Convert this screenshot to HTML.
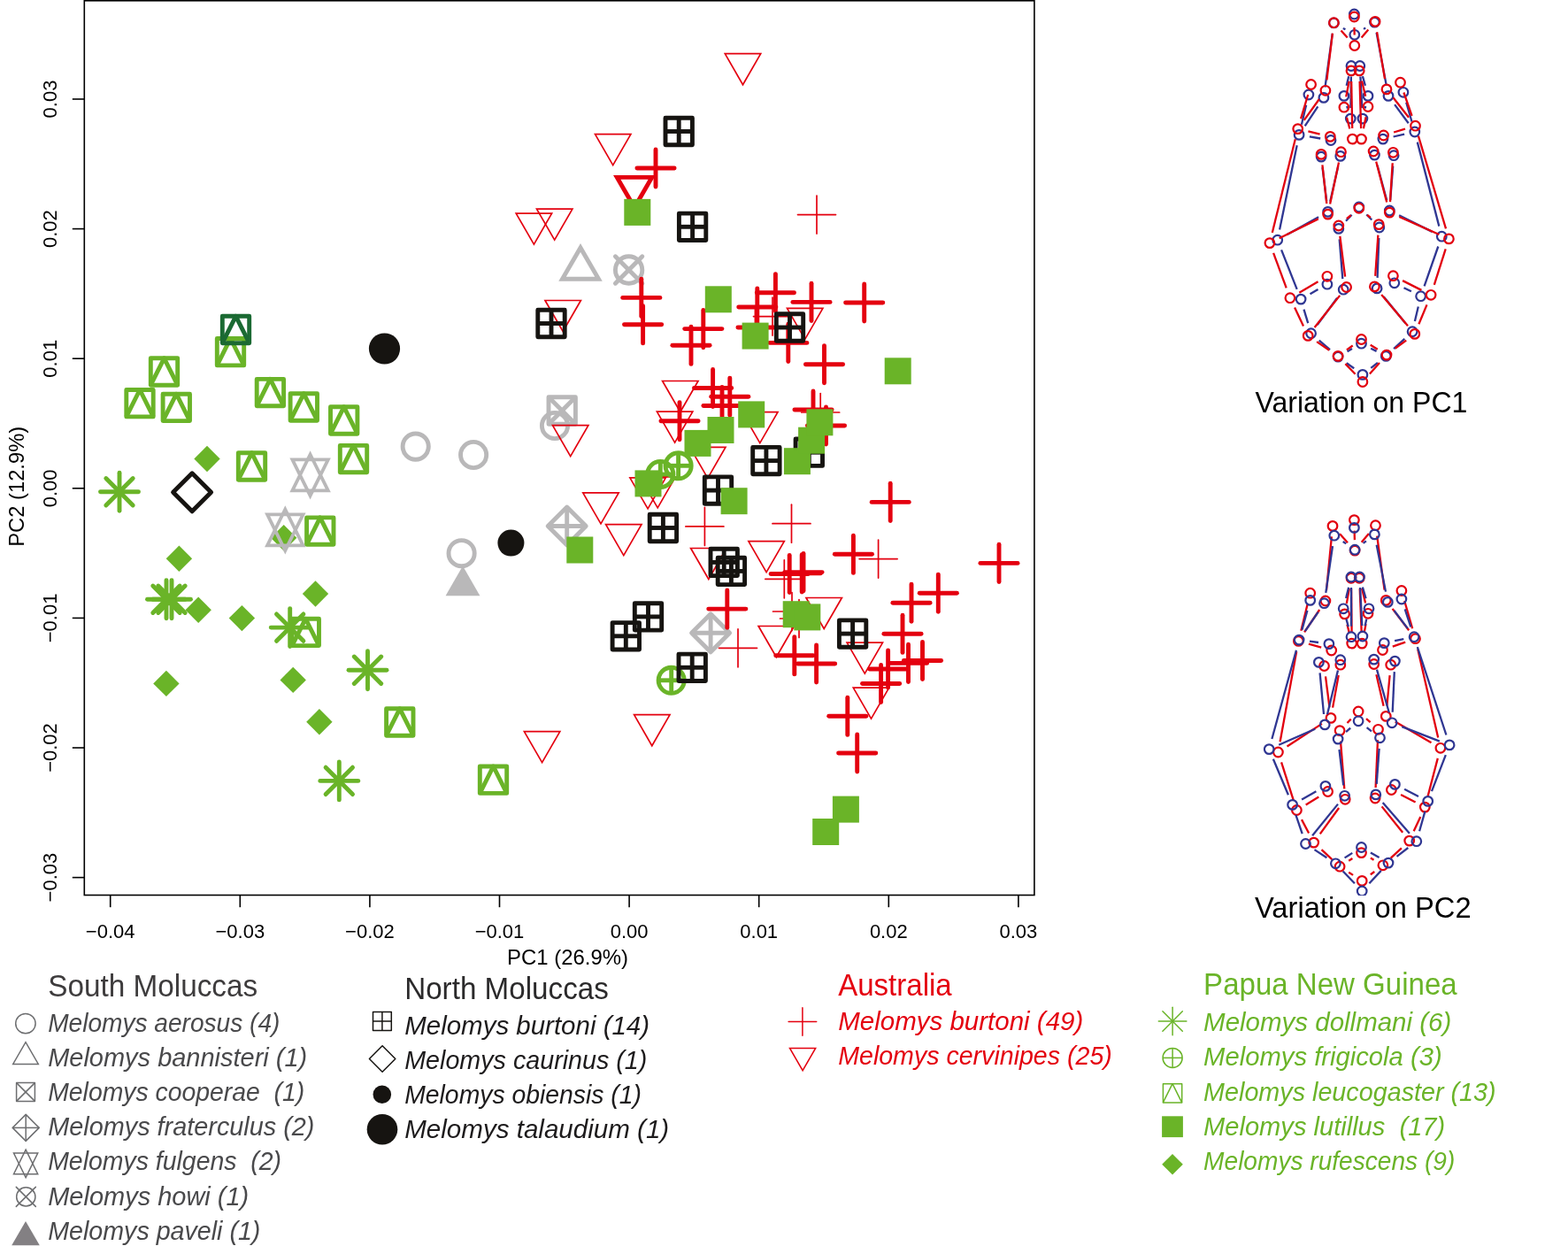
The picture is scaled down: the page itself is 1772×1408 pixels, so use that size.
<!DOCTYPE html>
<html><head><meta charset="utf-8"><title>PCA</title><style>html,body{margin:0;padding:0;background:#fff;}svg{display:block;}</style></head><body>
<svg width="1772" height="1408" viewBox="0 0 1772 1408">
<rect x="0" y="0" width="1772" height="1408" fill="#ffffff"/>
<rect x="95.3" y="0.8" width="1073.6" height="1010.7" fill="none" stroke="#000" stroke-width="1.6"/>
<line x1="124.7" y1="1011.5" x2="124.7" y2="1025.2" stroke="#000" stroke-width="1.6" stroke-linecap="butt"/>
<text x="124.7" y="1059.6" font-family="Liberation Sans, sans-serif" font-size="22" fill="#000" text-anchor="middle" xml:space="preserve">−0.04</text>
<line x1="271.3" y1="1011.5" x2="271.3" y2="1025.2" stroke="#000" stroke-width="1.6" stroke-linecap="butt"/>
<text x="271.3" y="1059.6" font-family="Liberation Sans, sans-serif" font-size="22" fill="#000" text-anchor="middle" xml:space="preserve">−0.03</text>
<line x1="417.9" y1="1011.5" x2="417.9" y2="1025.2" stroke="#000" stroke-width="1.6" stroke-linecap="butt"/>
<text x="417.9" y="1059.6" font-family="Liberation Sans, sans-serif" font-size="22" fill="#000" text-anchor="middle" xml:space="preserve">−0.02</text>
<line x1="564.5" y1="1011.5" x2="564.5" y2="1025.2" stroke="#000" stroke-width="1.6" stroke-linecap="butt"/>
<text x="564.5" y="1059.6" font-family="Liberation Sans, sans-serif" font-size="22" fill="#000" text-anchor="middle" xml:space="preserve">−0.01</text>
<line x1="711.1" y1="1011.5" x2="711.1" y2="1025.2" stroke="#000" stroke-width="1.6" stroke-linecap="butt"/>
<text x="711.1" y="1059.6" font-family="Liberation Sans, sans-serif" font-size="22" fill="#000" text-anchor="middle" xml:space="preserve">0.00</text>
<line x1="857.7" y1="1011.5" x2="857.7" y2="1025.2" stroke="#000" stroke-width="1.6" stroke-linecap="butt"/>
<text x="857.7" y="1059.6" font-family="Liberation Sans, sans-serif" font-size="22" fill="#000" text-anchor="middle" xml:space="preserve">0.01</text>
<line x1="1004.3" y1="1011.5" x2="1004.3" y2="1025.2" stroke="#000" stroke-width="1.6" stroke-linecap="butt"/>
<text x="1004.3" y="1059.6" font-family="Liberation Sans, sans-serif" font-size="22" fill="#000" text-anchor="middle" xml:space="preserve">0.02</text>
<line x1="1150.9" y1="1011.5" x2="1150.9" y2="1025.2" stroke="#000" stroke-width="1.6" stroke-linecap="butt"/>
<text x="1150.9" y="1059.6" font-family="Liberation Sans, sans-serif" font-size="22" fill="#000" text-anchor="middle" xml:space="preserve">0.03</text>
<line x1="81.8" y1="112" x2="95.3" y2="112" stroke="#000" stroke-width="1.6" stroke-linecap="butt"/>
<text x="63.6" y="112" font-family="Liberation Sans, sans-serif" font-size="22" fill="#000" text-anchor="middle" transform="rotate(-90 63.6 112)" xml:space="preserve">0.03</text>
<line x1="81.8" y1="258.6" x2="95.3" y2="258.6" stroke="#000" stroke-width="1.6" stroke-linecap="butt"/>
<text x="63.6" y="258.6" font-family="Liberation Sans, sans-serif" font-size="22" fill="#000" text-anchor="middle" transform="rotate(-90 63.6 258.6)" xml:space="preserve">0.02</text>
<line x1="81.8" y1="405.2" x2="95.3" y2="405.2" stroke="#000" stroke-width="1.6" stroke-linecap="butt"/>
<text x="63.6" y="405.2" font-family="Liberation Sans, sans-serif" font-size="22" fill="#000" text-anchor="middle" transform="rotate(-90 63.6 405.2)" xml:space="preserve">0.01</text>
<line x1="81.8" y1="551.8" x2="95.3" y2="551.8" stroke="#000" stroke-width="1.6" stroke-linecap="butt"/>
<text x="63.6" y="551.8" font-family="Liberation Sans, sans-serif" font-size="22" fill="#000" text-anchor="middle" transform="rotate(-90 63.6 551.8)" xml:space="preserve">0.00</text>
<line x1="81.8" y1="698.4" x2="95.3" y2="698.4" stroke="#000" stroke-width="1.6" stroke-linecap="butt"/>
<text x="63.6" y="698.4" font-family="Liberation Sans, sans-serif" font-size="22" fill="#000" text-anchor="middle" transform="rotate(-90 63.6 698.4)" xml:space="preserve">−0.01</text>
<line x1="81.8" y1="845" x2="95.3" y2="845" stroke="#000" stroke-width="1.6" stroke-linecap="butt"/>
<text x="63.6" y="845" font-family="Liberation Sans, sans-serif" font-size="22" fill="#000" text-anchor="middle" transform="rotate(-90 63.6 845)" xml:space="preserve">−0.02</text>
<line x1="81.8" y1="991.6" x2="95.3" y2="991.6" stroke="#000" stroke-width="1.6" stroke-linecap="butt"/>
<text x="63.6" y="991.6" font-family="Liberation Sans, sans-serif" font-size="22" fill="#000" text-anchor="middle" transform="rotate(-90 63.6 991.6)" xml:space="preserve">−0.03</text>
<text x="573" y="1090.2" font-family="Liberation Sans, sans-serif" font-size="24" fill="#000" text-anchor="start" textLength="137" lengthAdjust="spacingAndGlyphs" xml:space="preserve">PC1 (26.9%)</text>
<text x="27.2" y="617.8" font-family="Liberation Sans, sans-serif" font-size="24" fill="#000" text-anchor="start" textLength="136" lengthAdjust="spacingAndGlyphs" transform="rotate(-90 27.2 617.8)" xml:space="preserve">PC2 (12.9%)</text>
<polygon points="219.3,518.5 234,503.8 248.7,518.5 234,533.2" fill="#6ab428"/>
<polygon points="306,607.7 320.7,593 335.4,607.7 320.7,622.4" fill="#6ab428"/>
<polygon points="187.7,631.2 202.4,616.5 217.1,631.2 202.4,645.9" fill="#6ab428"/>
<polygon points="209.5,689.3 224.2,674.6 238.9,689.3 224.2,704" fill="#6ab428"/>
<polygon points="258.7,698.6 273.4,683.9 288.1,698.6 273.4,713.3" fill="#6ab428"/>
<polygon points="341.8,671 356.5,656.3 371.2,671 356.5,685.7" fill="#6ab428"/>
<polygon points="173.2,772.4 187.9,757.7 202.6,772.4 187.9,787.1" fill="#6ab428"/>
<polygon points="316.5,768.4 331.2,753.7 345.9,768.4 331.2,783.1" fill="#6ab428"/>
<polygon points="346.2,815.8 360.9,801.1 375.6,815.8 360.9,830.5" fill="#6ab428"/>
<circle cx="469.7" cy="504.6" r="14.6" fill="none" stroke="#b9b8b9" stroke-width="4.9"/>
<circle cx="535.1" cy="514" r="14.6" fill="none" stroke="#b9b8b9" stroke-width="4.9"/>
<circle cx="627" cy="481" r="14.6" fill="none" stroke="#b9b8b9" stroke-width="4.9"/>
<circle cx="521.6" cy="625.2" r="14.6" fill="none" stroke="#b9b8b9" stroke-width="4.9"/>
<polygon points="635.5,315.3 676.5,315.3 656,279.9" fill="none" stroke="#b9b8b9" stroke-width="4.9" stroke-linejoin="miter"/>
<rect x="620" y="448.8" width="30.4" height="30.4" fill="none" stroke="#b9b8b9" stroke-width="4.9" stroke-linejoin="round"/>
<line x1="620" y1="448.8" x2="650.4" y2="479.2" stroke="#b9b8b9" stroke-width="4.9" stroke-linecap="butt"/>
<line x1="620" y1="479.2" x2="650.4" y2="448.8" stroke="#b9b8b9" stroke-width="4.9" stroke-linecap="butt"/>
<polygon points="619.2,594.5 640.7,573 662.2,594.5 640.7,616" fill="none" stroke="#b9b8b9" stroke-width="4.9" stroke-linejoin="round"/>
<line x1="619.2" y1="594.5" x2="662.2" y2="594.5" stroke="#b9b8b9" stroke-width="4.9" stroke-linecap="butt"/>
<line x1="640.7" y1="573" x2="640.7" y2="616" stroke="#b9b8b9" stroke-width="4.9" stroke-linecap="butt"/>
<polygon points="781.6,715.3 803.1,693.8 824.6,715.3 803.1,736.8" fill="none" stroke="#b9b8b9" stroke-width="4.9" stroke-linejoin="round"/>
<line x1="781.6" y1="715.3" x2="824.6" y2="715.3" stroke="#b9b8b9" stroke-width="4.9" stroke-linecap="butt"/>
<line x1="803.1" y1="693.8" x2="803.1" y2="736.8" stroke="#b9b8b9" stroke-width="4.9" stroke-linecap="butt"/>
<polygon points="350.6,513.5 370.8,554.3 330.4,554.3" fill="none" stroke="#b9b8b9" stroke-width="3.8" stroke-linejoin="miter"/>
<polygon points="350.6,560.1 370.8,519.3 330.4,519.3" fill="none" stroke="#b9b8b9" stroke-width="3.8" stroke-linejoin="miter"/>
<polygon points="322.3,575.5 342.5,616.3 302.1,616.3" fill="none" stroke="#b9b8b9" stroke-width="3.8" stroke-linejoin="miter"/>
<polygon points="322.3,622.1 342.5,581.3 302.1,581.3" fill="none" stroke="#b9b8b9" stroke-width="3.8" stroke-linejoin="miter"/>
<circle cx="710.6" cy="305" r="15.2" fill="none" stroke="#b9b8b9" stroke-width="4.9"/>
<line x1="695.4" y1="289.8" x2="725.8" y2="320.2" stroke="#b9b8b9" stroke-width="4.9" stroke-linecap="round"/>
<line x1="695.4" y1="320.2" x2="725.8" y2="289.8" stroke="#b9b8b9" stroke-width="4.9" stroke-linecap="round"/>
<polygon points="503.6,673.2 542.4,673.2 523,639.6" fill="#b9b8b9"/>
<polygon points="819.3,60.7 859.7,60.7 839.5,95.7" fill="none" stroke="#e4000f" stroke-width="1.7" stroke-linejoin="miter"/>
<polygon points="672.5,151.6 712.9,151.6 692.7,186.6" fill="none" stroke="#e4000f" stroke-width="1.7" stroke-linejoin="miter"/>
<polygon points="697.3,200.4 736.7,200.4 717,234.5" fill="none" stroke="#e4000f" stroke-width="4.9" stroke-linejoin="miter"/>
<polygon points="583.2,241.1 623.6,241.1 603.4,276.1" fill="none" stroke="#e4000f" stroke-width="1.7" stroke-linejoin="miter"/>
<polygon points="606.5,236.1 646.9,236.1 626.7,271.1" fill="none" stroke="#e4000f" stroke-width="1.7" stroke-linejoin="miter"/>
<polygon points="616,339.5 656.4,339.5 636.2,374.5" fill="none" stroke="#e4000f" stroke-width="1.7" stroke-linejoin="miter"/>
<polygon points="889.5,348.3 929.9,348.3 909.7,383.3" fill="none" stroke="#e4000f" stroke-width="1.7" stroke-linejoin="miter"/>
<polygon points="748.6,430.5 789,430.5 768.8,465.5" fill="none" stroke="#e4000f" stroke-width="1.7" stroke-linejoin="miter"/>
<polygon points="742.4,465.1 782.8,465.1 762.6,500.1" fill="none" stroke="#e4000f" stroke-width="1.7" stroke-linejoin="miter"/>
<polygon points="838.6,465.6 879,465.6 858.8,500.6" fill="none" stroke="#e4000f" stroke-width="1.7" stroke-linejoin="miter"/>
<polygon points="624.5,480.6 664.9,480.6 644.7,515.6" fill="none" stroke="#e4000f" stroke-width="1.7" stroke-linejoin="miter"/>
<polygon points="779.6,505.3 820,505.3 799.8,540.3" fill="none" stroke="#e4000f" stroke-width="1.7" stroke-linejoin="miter"/>
<polygon points="711.9,539.9 752.3,539.9 732.1,574.9" fill="none" stroke="#e4000f" stroke-width="1.7" stroke-linejoin="miter"/>
<polygon points="723,538.9 763.4,538.9 743.2,573.9" fill="none" stroke="#e4000f" stroke-width="1.7" stroke-linejoin="miter"/>
<polygon points="658.8,556.8 699.2,556.8 679,591.8" fill="none" stroke="#e4000f" stroke-width="1.7" stroke-linejoin="miter"/>
<polygon points="684.6,592.6 725,592.6 704.8,627.6" fill="none" stroke="#e4000f" stroke-width="1.7" stroke-linejoin="miter"/>
<polygon points="780.6,619.5 821,619.5 800.8,654.5" fill="none" stroke="#e4000f" stroke-width="1.7" stroke-linejoin="miter"/>
<polygon points="845.9,611.6 886.3,611.6 866.1,646.6" fill="none" stroke="#e4000f" stroke-width="1.7" stroke-linejoin="miter"/>
<polygon points="911,675.5 951.4,675.5 931.2,710.5" fill="none" stroke="#e4000f" stroke-width="1.7" stroke-linejoin="miter"/>
<polygon points="857.1,707.5 897.5,707.5 877.3,742.5" fill="none" stroke="#e4000f" stroke-width="1.7" stroke-linejoin="miter"/>
<polygon points="957.1,726.1 997.5,726.1 977.3,761.1" fill="none" stroke="#e4000f" stroke-width="1.7" stroke-linejoin="miter"/>
<polygon points="964.3,777.1 1004.7,777.1 984.5,812.1" fill="none" stroke="#e4000f" stroke-width="1.7" stroke-linejoin="miter"/>
<polygon points="716.6,807.7 757,807.7 736.8,842.7" fill="none" stroke="#e4000f" stroke-width="1.7" stroke-linejoin="miter"/>
<polygon points="592.4,826.6 632.8,826.6 612.6,861.6" fill="none" stroke="#e4000f" stroke-width="1.7" stroke-linejoin="miter"/>
<line x1="719.9" y1="190" x2="762.1" y2="190" stroke="#e4000f" stroke-width="4.9" stroke-linecap="round"/>
<line x1="741" y1="168.9" x2="741" y2="211.1" stroke="#e4000f" stroke-width="4.9" stroke-linecap="round"/>
<line x1="901.5" y1="242.6" x2="944.5" y2="242.6" stroke="#e4000f" stroke-width="1.7" stroke-linecap="round"/>
<line x1="923" y1="221.1" x2="923" y2="264.1" stroke="#e4000f" stroke-width="1.7" stroke-linecap="round"/>
<line x1="703.7" y1="336.4" x2="745.9" y2="336.4" stroke="#e4000f" stroke-width="4.9" stroke-linecap="round"/>
<line x1="724.8" y1="315.3" x2="724.8" y2="357.5" stroke="#e4000f" stroke-width="4.9" stroke-linecap="round"/>
<line x1="705.5" y1="366.8" x2="747.7" y2="366.8" stroke="#e4000f" stroke-width="4.9" stroke-linecap="round"/>
<line x1="726.6" y1="345.7" x2="726.6" y2="387.9" stroke="#e4000f" stroke-width="4.9" stroke-linecap="round"/>
<line x1="773.7" y1="371.6" x2="815.9" y2="371.6" stroke="#e4000f" stroke-width="4.9" stroke-linecap="round"/>
<line x1="794.8" y1="350.5" x2="794.8" y2="392.7" stroke="#e4000f" stroke-width="4.9" stroke-linecap="round"/>
<line x1="759.9" y1="390.3" x2="802.1" y2="390.3" stroke="#e4000f" stroke-width="4.9" stroke-linecap="round"/>
<line x1="781" y1="369.2" x2="781" y2="411.4" stroke="#e4000f" stroke-width="4.9" stroke-linecap="round"/>
<line x1="834.7" y1="347" x2="876.9" y2="347" stroke="#e4000f" stroke-width="4.9" stroke-linecap="round"/>
<line x1="855.8" y1="325.9" x2="855.8" y2="368.1" stroke="#e4000f" stroke-width="4.9" stroke-linecap="round"/>
<line x1="833.9" y1="370" x2="876.1" y2="370" stroke="#e4000f" stroke-width="4.9" stroke-linecap="round"/>
<line x1="855" y1="348.9" x2="855" y2="391.1" stroke="#e4000f" stroke-width="4.9" stroke-linecap="round"/>
<line x1="851.5" y1="357.6" x2="894.5" y2="357.6" stroke="#e4000f" stroke-width="1.7" stroke-linecap="round"/>
<line x1="873" y1="336.1" x2="873" y2="379.1" stroke="#e4000f" stroke-width="1.7" stroke-linecap="round"/>
<line x1="855.3" y1="330.7" x2="897.5" y2="330.7" stroke="#e4000f" stroke-width="4.9" stroke-linecap="round"/>
<line x1="876.4" y1="309.6" x2="876.4" y2="351.8" stroke="#e4000f" stroke-width="4.9" stroke-linecap="round"/>
<line x1="895.9" y1="341.4" x2="938.1" y2="341.4" stroke="#e4000f" stroke-width="4.9" stroke-linecap="round"/>
<line x1="917" y1="320.3" x2="917" y2="362.5" stroke="#e4000f" stroke-width="4.9" stroke-linecap="round"/>
<line x1="955.6" y1="342" x2="997.8" y2="342" stroke="#e4000f" stroke-width="4.9" stroke-linecap="round"/>
<line x1="976.7" y1="320.9" x2="976.7" y2="363.1" stroke="#e4000f" stroke-width="4.9" stroke-linecap="round"/>
<line x1="869.7" y1="387.4" x2="911.9" y2="387.4" stroke="#e4000f" stroke-width="4.9" stroke-linecap="round"/>
<line x1="890.8" y1="366.3" x2="890.8" y2="408.5" stroke="#e4000f" stroke-width="4.9" stroke-linecap="round"/>
<line x1="910.4" y1="411.7" x2="952.6" y2="411.7" stroke="#e4000f" stroke-width="4.9" stroke-linecap="round"/>
<line x1="931.5" y1="390.6" x2="931.5" y2="432.8" stroke="#e4000f" stroke-width="4.9" stroke-linecap="round"/>
<line x1="784.5" y1="438.5" x2="826.7" y2="438.5" stroke="#e4000f" stroke-width="4.9" stroke-linecap="round"/>
<line x1="805.6" y1="417.4" x2="805.6" y2="459.6" stroke="#e4000f" stroke-width="4.9" stroke-linecap="round"/>
<line x1="803.7" y1="448.2" x2="845.9" y2="448.2" stroke="#e4000f" stroke-width="4.9" stroke-linecap="round"/>
<line x1="824.8" y1="427.1" x2="824.8" y2="469.3" stroke="#e4000f" stroke-width="4.9" stroke-linecap="round"/>
<line x1="794.9" y1="458.5" x2="837.1" y2="458.5" stroke="#e4000f" stroke-width="4.9" stroke-linecap="round"/>
<line x1="816" y1="437.4" x2="816" y2="479.6" stroke="#e4000f" stroke-width="4.9" stroke-linecap="round"/>
<line x1="746.9" y1="475.7" x2="789.1" y2="475.7" stroke="#e4000f" stroke-width="4.9" stroke-linecap="round"/>
<line x1="768" y1="454.6" x2="768" y2="496.8" stroke="#e4000f" stroke-width="4.9" stroke-linecap="round"/>
<line x1="897.9" y1="463" x2="940.1" y2="463" stroke="#e4000f" stroke-width="4.9" stroke-linecap="round"/>
<line x1="919" y1="441.9" x2="919" y2="484.1" stroke="#e4000f" stroke-width="4.9" stroke-linecap="round"/>
<line x1="905.7" y1="466" x2="948.7" y2="466" stroke="#e4000f" stroke-width="1.7" stroke-linecap="round"/>
<line x1="927.2" y1="444.5" x2="927.2" y2="487.5" stroke="#e4000f" stroke-width="1.7" stroke-linecap="round"/>
<line x1="912.4" y1="481" x2="954.6" y2="481" stroke="#e4000f" stroke-width="4.9" stroke-linecap="round"/>
<line x1="933.5" y1="459.9" x2="933.5" y2="502.1" stroke="#e4000f" stroke-width="4.9" stroke-linecap="round"/>
<line x1="985.1" y1="567.4" x2="1027.3" y2="567.4" stroke="#e4000f" stroke-width="4.9" stroke-linecap="round"/>
<line x1="1006.2" y1="546.3" x2="1006.2" y2="588.5" stroke="#e4000f" stroke-width="4.9" stroke-linecap="round"/>
<line x1="774.9" y1="594.9" x2="817.9" y2="594.9" stroke="#e4000f" stroke-width="1.7" stroke-linecap="round"/>
<line x1="796.4" y1="573.4" x2="796.4" y2="616.4" stroke="#e4000f" stroke-width="1.7" stroke-linecap="round"/>
<line x1="873" y1="591.7" x2="916" y2="591.7" stroke="#e4000f" stroke-width="1.7" stroke-linecap="round"/>
<line x1="894.5" y1="570.2" x2="894.5" y2="613.2" stroke="#e4000f" stroke-width="1.7" stroke-linecap="round"/>
<line x1="871.1" y1="648.5" x2="913.3" y2="648.5" stroke="#e4000f" stroke-width="4.9" stroke-linecap="round"/>
<line x1="892.2" y1="627.4" x2="892.2" y2="669.6" stroke="#e4000f" stroke-width="4.9" stroke-linecap="round"/>
<line x1="885.1" y1="647.9" x2="927.3" y2="647.9" stroke="#e4000f" stroke-width="4.9" stroke-linecap="round"/>
<line x1="906.2" y1="626.8" x2="906.2" y2="669" stroke="#e4000f" stroke-width="4.9" stroke-linecap="round"/>
<line x1="886.9" y1="646.6" x2="929.1" y2="646.6" stroke="#e4000f" stroke-width="4.9" stroke-linecap="round"/>
<line x1="908" y1="625.5" x2="908" y2="667.7" stroke="#e4000f" stroke-width="4.9" stroke-linecap="round"/>
<line x1="864.8" y1="654.3" x2="907.8" y2="654.3" stroke="#e4000f" stroke-width="1.7" stroke-linecap="round"/>
<line x1="886.3" y1="632.8" x2="886.3" y2="675.8" stroke="#e4000f" stroke-width="1.7" stroke-linecap="round"/>
<line x1="943.3" y1="626.3" x2="985.5" y2="626.3" stroke="#e4000f" stroke-width="4.9" stroke-linecap="round"/>
<line x1="964.4" y1="605.2" x2="964.4" y2="647.4" stroke="#e4000f" stroke-width="4.9" stroke-linecap="round"/>
<line x1="971.1" y1="631.6" x2="1014.1" y2="631.6" stroke="#e4000f" stroke-width="1.7" stroke-linecap="round"/>
<line x1="992.6" y1="610.1" x2="992.6" y2="653.1" stroke="#e4000f" stroke-width="1.7" stroke-linecap="round"/>
<line x1="1107.9" y1="636.4" x2="1150.1" y2="636.4" stroke="#e4000f" stroke-width="4.9" stroke-linecap="round"/>
<line x1="1129" y1="615.3" x2="1129" y2="657.5" stroke="#e4000f" stroke-width="4.9" stroke-linecap="round"/>
<line x1="1039.2" y1="670.2" x2="1081.4" y2="670.2" stroke="#e4000f" stroke-width="4.9" stroke-linecap="round"/>
<line x1="1060.3" y1="649.1" x2="1060.3" y2="691.3" stroke="#e4000f" stroke-width="4.9" stroke-linecap="round"/>
<line x1="1008.9" y1="681.2" x2="1051.1" y2="681.2" stroke="#e4000f" stroke-width="4.9" stroke-linecap="round"/>
<line x1="1030" y1="660.1" x2="1030" y2="702.3" stroke="#e4000f" stroke-width="4.9" stroke-linecap="round"/>
<line x1="800.7" y1="688.1" x2="842.9" y2="688.1" stroke="#e4000f" stroke-width="4.9" stroke-linecap="round"/>
<line x1="821.8" y1="667" x2="821.8" y2="709.2" stroke="#e4000f" stroke-width="4.9" stroke-linecap="round"/>
<line x1="873.5" y1="691" x2="916.5" y2="691" stroke="#e4000f" stroke-width="1.7" stroke-linecap="round"/>
<line x1="895" y1="669.5" x2="895" y2="712.5" stroke="#e4000f" stroke-width="1.7" stroke-linecap="round"/>
<line x1="881.5" y1="699" x2="924.5" y2="699" stroke="#e4000f" stroke-width="1.7" stroke-linecap="round"/>
<line x1="903" y1="677.5" x2="903" y2="720.5" stroke="#e4000f" stroke-width="1.7" stroke-linecap="round"/>
<line x1="812.5" y1="732.3" x2="855.5" y2="732.3" stroke="#e4000f" stroke-width="1.7" stroke-linecap="round"/>
<line x1="834" y1="710.8" x2="834" y2="753.8" stroke="#e4000f" stroke-width="1.7" stroke-linecap="round"/>
<line x1="876.7" y1="740.8" x2="918.9" y2="740.8" stroke="#e4000f" stroke-width="4.9" stroke-linecap="round"/>
<line x1="897.8" y1="719.7" x2="897.8" y2="761.9" stroke="#e4000f" stroke-width="4.9" stroke-linecap="round"/>
<line x1="901.5" y1="750" x2="943.7" y2="750" stroke="#e4000f" stroke-width="4.9" stroke-linecap="round"/>
<line x1="922.6" y1="728.9" x2="922.6" y2="771.1" stroke="#e4000f" stroke-width="4.9" stroke-linecap="round"/>
<line x1="998.9" y1="716.3" x2="1041.1" y2="716.3" stroke="#e4000f" stroke-width="4.9" stroke-linecap="round"/>
<line x1="1020" y1="695.2" x2="1020" y2="737.4" stroke="#e4000f" stroke-width="4.9" stroke-linecap="round"/>
<line x1="1021.4" y1="746.5" x2="1063.6" y2="746.5" stroke="#e4000f" stroke-width="4.9" stroke-linecap="round"/>
<line x1="1042.5" y1="725.4" x2="1042.5" y2="767.6" stroke="#e4000f" stroke-width="4.9" stroke-linecap="round"/>
<line x1="1005.4" y1="749.4" x2="1047.6" y2="749.4" stroke="#e4000f" stroke-width="4.9" stroke-linecap="round"/>
<line x1="1026.5" y1="728.3" x2="1026.5" y2="770.5" stroke="#e4000f" stroke-width="4.9" stroke-linecap="round"/>
<line x1="982.5" y1="756" x2="1024.7" y2="756" stroke="#e4000f" stroke-width="4.9" stroke-linecap="round"/>
<line x1="1003.6" y1="734.9" x2="1003.6" y2="777.1" stroke="#e4000f" stroke-width="4.9" stroke-linecap="round"/>
<line x1="974.5" y1="772.5" x2="1016.7" y2="772.5" stroke="#e4000f" stroke-width="4.9" stroke-linecap="round"/>
<line x1="995.6" y1="751.4" x2="995.6" y2="793.6" stroke="#e4000f" stroke-width="4.9" stroke-linecap="round"/>
<line x1="936.7" y1="809.3" x2="978.9" y2="809.3" stroke="#e4000f" stroke-width="4.9" stroke-linecap="round"/>
<line x1="957.8" y1="788.2" x2="957.8" y2="830.4" stroke="#e4000f" stroke-width="4.9" stroke-linecap="round"/>
<line x1="947.6" y1="851" x2="989.8" y2="851" stroke="#e4000f" stroke-width="4.9" stroke-linecap="round"/>
<line x1="968.7" y1="829.9" x2="968.7" y2="872.1" stroke="#e4000f" stroke-width="4.9" stroke-linecap="round"/>
<polygon points="195.6,556.3 217.1,534.8 238.6,556.3 217.1,577.8" fill="none" stroke="#161411" stroke-width="4.9" stroke-linejoin="round"/>
<circle cx="577.4" cy="613.6" r="15" fill="#161411"/>
<circle cx="434.5" cy="394" r="17.6" fill="#161411"/>
<rect x="245.3" y="382.5" width="30.4" height="30.4" fill="none" stroke="#6ab428" stroke-width="4.9" stroke-linejoin="round"/>
<polyline points="245.3,412.9 260.5,382.5 275.7,412.9" fill="none" stroke="#6ab428" stroke-width="4.9" stroke-linejoin="round"/>
<rect x="170.3" y="404.8" width="30.4" height="30.4" fill="none" stroke="#6ab428" stroke-width="4.9" stroke-linejoin="round"/>
<polyline points="170.3,435.2 185.5,404.8 200.7,435.2" fill="none" stroke="#6ab428" stroke-width="4.9" stroke-linejoin="round"/>
<rect x="142.8" y="440.5" width="30.4" height="30.4" fill="none" stroke="#6ab428" stroke-width="4.9" stroke-linejoin="round"/>
<polyline points="142.8,470.9 158,440.5 173.2,470.9" fill="none" stroke="#6ab428" stroke-width="4.9" stroke-linejoin="round"/>
<rect x="184.1" y="445.2" width="30.4" height="30.4" fill="none" stroke="#6ab428" stroke-width="4.9" stroke-linejoin="round"/>
<polyline points="184.1,475.6 199.3,445.2 214.5,475.6" fill="none" stroke="#6ab428" stroke-width="4.9" stroke-linejoin="round"/>
<rect x="290.2" y="428.4" width="30.4" height="30.4" fill="none" stroke="#6ab428" stroke-width="4.9" stroke-linejoin="round"/>
<polyline points="290.2,458.8 305.4,428.4 320.6,458.8" fill="none" stroke="#6ab428" stroke-width="4.9" stroke-linejoin="round"/>
<rect x="328.1" y="444.8" width="30.4" height="30.4" fill="none" stroke="#6ab428" stroke-width="4.9" stroke-linejoin="round"/>
<polyline points="328.1,475.2 343.3,444.8 358.5,475.2" fill="none" stroke="#6ab428" stroke-width="4.9" stroke-linejoin="round"/>
<rect x="373.5" y="459.8" width="30.4" height="30.4" fill="none" stroke="#6ab428" stroke-width="4.9" stroke-linejoin="round"/>
<polyline points="373.5,490.2 388.7,459.8 403.9,490.2" fill="none" stroke="#6ab428" stroke-width="4.9" stroke-linejoin="round"/>
<rect x="269.3" y="511.8" width="30.4" height="30.4" fill="none" stroke="#6ab428" stroke-width="4.9" stroke-linejoin="round"/>
<polyline points="269.3,542.2 284.5,511.8 299.7,542.2" fill="none" stroke="#6ab428" stroke-width="4.9" stroke-linejoin="round"/>
<rect x="384.3" y="503.4" width="30.4" height="30.4" fill="none" stroke="#6ab428" stroke-width="4.9" stroke-linejoin="round"/>
<polyline points="384.3,533.8 399.5,503.4 414.7,533.8" fill="none" stroke="#6ab428" stroke-width="4.9" stroke-linejoin="round"/>
<rect x="346.6" y="584.9" width="30.4" height="30.4" fill="none" stroke="#6ab428" stroke-width="4.9" stroke-linejoin="round"/>
<polyline points="346.6,615.3 361.8,584.9 377,615.3" fill="none" stroke="#6ab428" stroke-width="4.9" stroke-linejoin="round"/>
<rect x="330.1" y="699.2" width="30.4" height="30.4" fill="none" stroke="#6ab428" stroke-width="4.9" stroke-linejoin="round"/>
<polyline points="330.1,729.6 345.3,699.2 360.5,729.6" fill="none" stroke="#6ab428" stroke-width="4.9" stroke-linejoin="round"/>
<rect x="436.6" y="800.8" width="30.4" height="30.4" fill="none" stroke="#6ab428" stroke-width="4.9" stroke-linejoin="round"/>
<polyline points="436.6,831.2 451.8,800.8 467,831.2" fill="none" stroke="#6ab428" stroke-width="4.9" stroke-linejoin="round"/>
<rect x="542.3" y="866" width="30.4" height="30.4" fill="none" stroke="#6ab428" stroke-width="4.9" stroke-linejoin="round"/>
<polyline points="542.3,896.4 557.5,866 572.7,896.4" fill="none" stroke="#6ab428" stroke-width="4.9" stroke-linejoin="round"/>
<rect x="251.3" y="357.3" width="30.4" height="30.4" fill="none" stroke="#1b6a33" stroke-width="4.9" stroke-linejoin="round"/>
<polyline points="251.3,387.7 266.5,357.3 281.7,387.7" fill="none" stroke="#1b6a33" stroke-width="4.9" stroke-linejoin="round"/>
<line x1="113.5" y1="555.8" x2="156.5" y2="555.8" stroke="#6ab428" stroke-width="4.9" stroke-linecap="round"/>
<line x1="135" y1="534.3" x2="135" y2="577.3" stroke="#6ab428" stroke-width="4.9" stroke-linecap="round"/>
<line x1="119.8" y1="540.6" x2="150.2" y2="571" stroke="#6ab428" stroke-width="4.9" stroke-linecap="round"/>
<line x1="119.8" y1="571" x2="150.2" y2="540.6" stroke="#6ab428" stroke-width="4.9" stroke-linecap="round"/>
<line x1="166.5" y1="677.3" x2="209.5" y2="677.3" stroke="#6ab428" stroke-width="4.9" stroke-linecap="round"/>
<line x1="188" y1="655.8" x2="188" y2="698.8" stroke="#6ab428" stroke-width="4.9" stroke-linecap="round"/>
<line x1="172.8" y1="662.1" x2="203.2" y2="692.5" stroke="#6ab428" stroke-width="4.9" stroke-linecap="round"/>
<line x1="172.8" y1="692.5" x2="203.2" y2="662.1" stroke="#6ab428" stroke-width="4.9" stroke-linecap="round"/>
<line x1="172.5" y1="677.3" x2="215.5" y2="677.3" stroke="#6ab428" stroke-width="4.9" stroke-linecap="round"/>
<line x1="194" y1="655.8" x2="194" y2="698.8" stroke="#6ab428" stroke-width="4.9" stroke-linecap="round"/>
<line x1="178.8" y1="662.1" x2="209.2" y2="692.5" stroke="#6ab428" stroke-width="4.9" stroke-linecap="round"/>
<line x1="178.8" y1="692.5" x2="209.2" y2="662.1" stroke="#6ab428" stroke-width="4.9" stroke-linecap="round"/>
<line x1="306.2" y1="709.1" x2="349.2" y2="709.1" stroke="#6ab428" stroke-width="4.9" stroke-linecap="round"/>
<line x1="327.7" y1="687.6" x2="327.7" y2="730.6" stroke="#6ab428" stroke-width="4.9" stroke-linecap="round"/>
<line x1="312.5" y1="693.9" x2="342.9" y2="724.3" stroke="#6ab428" stroke-width="4.9" stroke-linecap="round"/>
<line x1="312.5" y1="724.3" x2="342.9" y2="693.9" stroke="#6ab428" stroke-width="4.9" stroke-linecap="round"/>
<line x1="394" y1="757.3" x2="437" y2="757.3" stroke="#6ab428" stroke-width="4.9" stroke-linecap="round"/>
<line x1="415.5" y1="735.8" x2="415.5" y2="778.8" stroke="#6ab428" stroke-width="4.9" stroke-linecap="round"/>
<line x1="400.3" y1="742.1" x2="430.7" y2="772.5" stroke="#6ab428" stroke-width="4.9" stroke-linecap="round"/>
<line x1="400.3" y1="772.5" x2="430.7" y2="742.1" stroke="#6ab428" stroke-width="4.9" stroke-linecap="round"/>
<line x1="361.8" y1="882.4" x2="404.8" y2="882.4" stroke="#6ab428" stroke-width="4.9" stroke-linecap="round"/>
<line x1="383.3" y1="860.9" x2="383.3" y2="903.9" stroke="#6ab428" stroke-width="4.9" stroke-linecap="round"/>
<line x1="368.1" y1="867.2" x2="398.5" y2="897.6" stroke="#6ab428" stroke-width="4.9" stroke-linecap="round"/>
<line x1="368.1" y1="897.6" x2="398.5" y2="867.2" stroke="#6ab428" stroke-width="4.9" stroke-linecap="round"/>
<circle cx="766.6" cy="526.3" r="14.6" fill="none" stroke="#6ab428" stroke-width="4.9"/>
<line x1="752" y1="526.3" x2="781.2" y2="526.3" stroke="#6ab428" stroke-width="4.9" stroke-linecap="butt"/>
<line x1="766.6" y1="511.7" x2="766.6" y2="540.9" stroke="#6ab428" stroke-width="4.9" stroke-linecap="butt"/>
<circle cx="746.3" cy="536" r="14.6" fill="none" stroke="#6ab428" stroke-width="4.9"/>
<line x1="731.7" y1="536" x2="760.9" y2="536" stroke="#6ab428" stroke-width="4.9" stroke-linecap="butt"/>
<line x1="746.3" y1="521.4" x2="746.3" y2="550.6" stroke="#6ab428" stroke-width="4.9" stroke-linecap="butt"/>
<circle cx="758.7" cy="768.8" r="14.6" fill="none" stroke="#6ab428" stroke-width="4.9"/>
<line x1="744.1" y1="768.8" x2="773.3" y2="768.8" stroke="#6ab428" stroke-width="4.9" stroke-linecap="butt"/>
<line x1="758.7" y1="754.2" x2="758.7" y2="783.4" stroke="#6ab428" stroke-width="4.9" stroke-linecap="butt"/>
<rect x="752" y="133.3" width="30.4" height="30.4" fill="none" stroke="#161411" stroke-width="4.9" stroke-linejoin="round"/>
<line x1="752" y1="148.5" x2="782.4" y2="148.5" stroke="#161411" stroke-width="4.9" stroke-linecap="butt"/>
<line x1="767.2" y1="133.3" x2="767.2" y2="163.7" stroke="#161411" stroke-width="4.9" stroke-linecap="butt"/>
<rect x="767.4" y="241.1" width="30.4" height="30.4" fill="none" stroke="#161411" stroke-width="4.9" stroke-linejoin="round"/>
<line x1="767.4" y1="256.3" x2="797.8" y2="256.3" stroke="#161411" stroke-width="4.9" stroke-linecap="butt"/>
<line x1="782.6" y1="241.1" x2="782.6" y2="271.5" stroke="#161411" stroke-width="4.9" stroke-linecap="butt"/>
<rect x="607.8" y="350.3" width="30.4" height="30.4" fill="none" stroke="#161411" stroke-width="4.9" stroke-linejoin="round"/>
<line x1="607.8" y1="365.5" x2="638.2" y2="365.5" stroke="#161411" stroke-width="4.9" stroke-linecap="butt"/>
<line x1="623" y1="350.3" x2="623" y2="380.7" stroke="#161411" stroke-width="4.9" stroke-linecap="butt"/>
<rect x="877.3" y="354.8" width="30.4" height="30.4" fill="none" stroke="#161411" stroke-width="4.9" stroke-linejoin="round"/>
<line x1="877.3" y1="370" x2="907.7" y2="370" stroke="#161411" stroke-width="4.9" stroke-linecap="butt"/>
<line x1="892.5" y1="354.8" x2="892.5" y2="385.2" stroke="#161411" stroke-width="4.9" stroke-linecap="butt"/>
<rect x="850.7" y="505.4" width="30.4" height="30.4" fill="none" stroke="#161411" stroke-width="4.9" stroke-linejoin="round"/>
<line x1="850.7" y1="520.6" x2="881.1" y2="520.6" stroke="#161411" stroke-width="4.9" stroke-linecap="butt"/>
<line x1="865.9" y1="505.4" x2="865.9" y2="535.8" stroke="#161411" stroke-width="4.9" stroke-linecap="butt"/>
<rect x="899.1" y="496" width="30.4" height="30.4" fill="none" stroke="#161411" stroke-width="4.9" stroke-linejoin="round"/>
<line x1="899.1" y1="511.2" x2="929.5" y2="511.2" stroke="#161411" stroke-width="4.9" stroke-linecap="butt"/>
<line x1="914.3" y1="496" x2="914.3" y2="526.4" stroke="#161411" stroke-width="4.9" stroke-linecap="butt"/>
<rect x="796.3" y="538.9" width="30.4" height="30.4" fill="none" stroke="#161411" stroke-width="4.9" stroke-linejoin="round"/>
<line x1="796.3" y1="554.1" x2="826.7" y2="554.1" stroke="#161411" stroke-width="4.9" stroke-linecap="butt"/>
<line x1="811.5" y1="538.9" x2="811.5" y2="569.3" stroke="#161411" stroke-width="4.9" stroke-linecap="butt"/>
<rect x="734.2" y="581.3" width="30.4" height="30.4" fill="none" stroke="#161411" stroke-width="4.9" stroke-linejoin="round"/>
<line x1="734.2" y1="596.5" x2="764.6" y2="596.5" stroke="#161411" stroke-width="4.9" stroke-linecap="butt"/>
<line x1="749.4" y1="581.3" x2="749.4" y2="611.7" stroke="#161411" stroke-width="4.9" stroke-linecap="butt"/>
<rect x="803" y="620.2" width="30.4" height="30.4" fill="none" stroke="#161411" stroke-width="4.9" stroke-linejoin="round"/>
<line x1="803" y1="635.4" x2="833.4" y2="635.4" stroke="#161411" stroke-width="4.9" stroke-linecap="butt"/>
<line x1="818.2" y1="620.2" x2="818.2" y2="650.6" stroke="#161411" stroke-width="4.9" stroke-linecap="butt"/>
<rect x="811.2" y="630.2" width="30.4" height="30.4" fill="none" stroke="#161411" stroke-width="4.9" stroke-linejoin="round"/>
<line x1="811.2" y1="645.4" x2="841.6" y2="645.4" stroke="#161411" stroke-width="4.9" stroke-linecap="butt"/>
<line x1="826.4" y1="630.2" x2="826.4" y2="660.6" stroke="#161411" stroke-width="4.9" stroke-linecap="butt"/>
<rect x="717.3" y="681.7" width="30.4" height="30.4" fill="none" stroke="#161411" stroke-width="4.9" stroke-linejoin="round"/>
<line x1="717.3" y1="696.9" x2="747.7" y2="696.9" stroke="#161411" stroke-width="4.9" stroke-linecap="butt"/>
<line x1="732.5" y1="681.7" x2="732.5" y2="712.1" stroke="#161411" stroke-width="4.9" stroke-linecap="butt"/>
<rect x="692.1" y="703.6" width="30.4" height="30.4" fill="none" stroke="#161411" stroke-width="4.9" stroke-linejoin="round"/>
<line x1="692.1" y1="718.8" x2="722.5" y2="718.8" stroke="#161411" stroke-width="4.9" stroke-linecap="butt"/>
<line x1="707.3" y1="703.6" x2="707.3" y2="734" stroke="#161411" stroke-width="4.9" stroke-linecap="butt"/>
<rect x="767" y="739.1" width="30.4" height="30.4" fill="none" stroke="#161411" stroke-width="4.9" stroke-linejoin="round"/>
<line x1="767" y1="754.3" x2="797.4" y2="754.3" stroke="#161411" stroke-width="4.9" stroke-linecap="butt"/>
<line x1="782.2" y1="739.1" x2="782.2" y2="769.5" stroke="#161411" stroke-width="4.9" stroke-linecap="butt"/>
<rect x="948.4" y="700.9" width="30.4" height="30.4" fill="none" stroke="#161411" stroke-width="4.9" stroke-linejoin="round"/>
<line x1="948.4" y1="716.1" x2="978.8" y2="716.1" stroke="#161411" stroke-width="4.9" stroke-linecap="butt"/>
<line x1="963.6" y1="700.9" x2="963.6" y2="731.3" stroke="#161411" stroke-width="4.9" stroke-linecap="butt"/>
<rect x="705.3" y="224.9" width="30" height="30" fill="#6ab428"/>
<rect x="796.8" y="323.3" width="30" height="30" fill="#6ab428"/>
<rect x="838.6" y="364.6" width="30" height="30" fill="#6ab428"/>
<rect x="999.7" y="404.3" width="30" height="30" fill="#6ab428"/>
<rect x="834.2" y="453.4" width="30" height="30" fill="#6ab428"/>
<rect x="799.5" y="471" width="30" height="30" fill="#6ab428"/>
<rect x="773.5" y="485.9" width="30" height="30" fill="#6ab428"/>
<rect x="717.5" y="531.4" width="30" height="30" fill="#6ab428"/>
<rect x="814.6" y="551.2" width="30" height="30" fill="#6ab428"/>
<rect x="885.9" y="506.2" width="30" height="30" fill="#6ab428"/>
<rect x="902.1" y="482.7" width="30" height="30" fill="#6ab428"/>
<rect x="911.4" y="462.3" width="30" height="30" fill="#6ab428"/>
<rect x="640.3" y="606.5" width="30" height="30" fill="#6ab428"/>
<rect x="884.7" y="679.2" width="30" height="30" fill="#6ab428"/>
<rect x="897.3" y="682.4" width="30" height="30" fill="#6ab428"/>
<rect x="940.9" y="899.6" width="30" height="30" fill="#6ab428"/>
<rect x="918.2" y="925" width="30" height="30" fill="#6ab428"/>
<line x1="1517.8" y1="31.9" x2="1520.4" y2="33.3" stroke="#2f3692" stroke-width="2.3" stroke-linecap="butt"/>
<line x1="1543.2" y1="31.5" x2="1541" y2="32.9" stroke="#2f3692" stroke-width="2.3" stroke-linecap="butt"/>
<line x1="1505.8" y1="37.8" x2="1497.5" y2="98.5" stroke="#2f3692" stroke-width="2.3" stroke-linecap="butt"/>
<line x1="1555.6" y1="36.9" x2="1566.8" y2="96.6" stroke="#2f3692" stroke-width="2.3" stroke-linecap="butt"/>
<line x1="1524.2" y1="86.2" x2="1521.7" y2="96.7" stroke="#2f3692" stroke-width="2.3" stroke-linecap="butt"/>
<line x1="1539.9" y1="86.1" x2="1542.9" y2="96.8" stroke="#2f3692" stroke-width="2.3" stroke-linecap="butt"/>
<line x1="1526.9" y1="86.5" x2="1526.4" y2="122.1" stroke="#2f3692" stroke-width="2.3" stroke-linecap="butt"/>
<line x1="1537.4" y1="86.5" x2="1539.3" y2="122.1" stroke="#2f3692" stroke-width="2.3" stroke-linecap="butt"/>
<line x1="1522.2" y1="119.9" x2="1523" y2="122.6" stroke="#2f3692" stroke-width="2.3" stroke-linecap="butt"/>
<line x1="1543.2" y1="120.1" x2="1542.7" y2="122.4" stroke="#2f3692" stroke-width="2.3" stroke-linecap="butt"/>
<line x1="1476.1" y1="118.7" x2="1470.9" y2="140.7" stroke="#2f3692" stroke-width="2.3" stroke-linecap="butt"/>
<line x1="1489.3" y1="120.4" x2="1474.7" y2="142.4" stroke="#2f3692" stroke-width="2.3" stroke-linecap="butt"/>
<line x1="1576.1" y1="118.1" x2="1591.7" y2="139.3" stroke="#2f3692" stroke-width="2.3" stroke-linecap="butt"/>
<line x1="1589.2" y1="115.8" x2="1595.5" y2="137.5" stroke="#2f3692" stroke-width="2.3" stroke-linecap="butt"/>
<line x1="1479.9" y1="154.4" x2="1492.2" y2="156.5" stroke="#2f3692" stroke-width="2.3" stroke-linecap="butt"/>
<line x1="1574.6" y1="154.5" x2="1587.1" y2="151.6" stroke="#2f3692" stroke-width="2.3" stroke-linecap="butt"/>
<line x1="1465.7" y1="164.2" x2="1446.1" y2="259.4" stroke="#2f3692" stroke-width="2.3" stroke-linecap="butt"/>
<line x1="1601.8" y1="160.6" x2="1626.3" y2="255.6" stroke="#2f3692" stroke-width="2.3" stroke-linecap="butt"/>
<line x1="1494.5" y1="189" x2="1499.2" y2="227.5" stroke="#2f3692" stroke-width="2.3" stroke-linecap="butt"/>
<line x1="1512.2" y1="188.1" x2="1503.2" y2="227.7" stroke="#2f3692" stroke-width="2.3" stroke-linecap="butt"/>
<line x1="1556.5" y1="186.7" x2="1567.2" y2="226.4" stroke="#2f3692" stroke-width="2.3" stroke-linecap="butt"/>
<line x1="1574.2" y1="187.7" x2="1571.2" y2="226" stroke="#2f3692" stroke-width="2.3" stroke-linecap="butt"/>
<line x1="1490.1" y1="245.3" x2="1454.2" y2="265.3" stroke="#2f3692" stroke-width="2.3" stroke-linecap="butt"/>
<line x1="1581.1" y1="243.3" x2="1618.5" y2="261.9" stroke="#2f3692" stroke-width="2.3" stroke-linecap="butt"/>
<line x1="1527.6" y1="242.7" x2="1521" y2="249.7" stroke="#2f3692" stroke-width="2.3" stroke-linecap="butt"/>
<line x1="1544.3" y1="242.5" x2="1550.3" y2="248.5" stroke="#2f3692" stroke-width="2.3" stroke-linecap="butt"/>
<line x1="1513.7" y1="270.4" x2="1517.3" y2="315.2" stroke="#2f3692" stroke-width="2.3" stroke-linecap="butt"/>
<line x1="1558.3" y1="269" x2="1556.6" y2="313.9" stroke="#2f3692" stroke-width="2.3" stroke-linecap="butt"/>
<line x1="1448.1" y1="282.4" x2="1465.7" y2="326.9" stroke="#2f3692" stroke-width="2.3" stroke-linecap="butt"/>
<line x1="1625.3" y1="278.5" x2="1609.6" y2="323.4" stroke="#2f3692" stroke-width="2.3" stroke-linecap="butt"/>
<line x1="1489.5" y1="327.1" x2="1480.5" y2="332.2" stroke="#2f3692" stroke-width="2.3" stroke-linecap="butt"/>
<line x1="1586.5" y1="325.2" x2="1594.9" y2="329.3" stroke="#2f3692" stroke-width="2.3" stroke-linecap="butt"/>
<line x1="1511.1" y1="336.8" x2="1488.7" y2="367.1" stroke="#2f3692" stroke-width="2.3" stroke-linecap="butt"/>
<line x1="1563.7" y1="335.2" x2="1588.5" y2="365.4" stroke="#2f3692" stroke-width="2.3" stroke-linecap="butt"/>
<line x1="1473.5" y1="349.6" x2="1478.2" y2="365.2" stroke="#2f3692" stroke-width="2.3" stroke-linecap="butt"/>
<line x1="1602.8" y1="346.4" x2="1598.9" y2="363" stroke="#2f3692" stroke-width="2.3" stroke-linecap="butt"/>
<line x1="1490.7" y1="384.6" x2="1503" y2="395.2" stroke="#2f3692" stroke-width="2.3" stroke-linecap="butt"/>
<line x1="1587.3" y1="382.9" x2="1575.1" y2="394.2" stroke="#2f3692" stroke-width="2.3" stroke-linecap="butt"/>
<line x1="1522.6" y1="397.2" x2="1528" y2="394.1" stroke="#2f3692" stroke-width="2.3" stroke-linecap="butt"/>
<line x1="1549.2" y1="393.7" x2="1555.6" y2="396.9" stroke="#2f3692" stroke-width="2.3" stroke-linecap="butt"/>
<line x1="1521.8" y1="410.2" x2="1530.2" y2="416.3" stroke="#2f3692" stroke-width="2.3" stroke-linecap="butt"/>
<line x1="1556.9" y1="409.9" x2="1549.3" y2="415.9" stroke="#2f3692" stroke-width="2.3" stroke-linecap="butt"/>
<circle cx="1530.4" cy="16" r="5.3" fill="none" stroke="#2f3692" stroke-width="2.2"/>
<circle cx="1507.4" cy="25.9" r="5.3" fill="none" stroke="#2f3692" stroke-width="2.2"/>
<circle cx="1553.4" cy="25.1" r="5.3" fill="none" stroke="#2f3692" stroke-width="2.2"/>
<circle cx="1530.8" cy="39.3" r="5.3" fill="none" stroke="#2f3692" stroke-width="2.2"/>
<circle cx="1527" cy="74.5" r="5.3" fill="none" stroke="#2f3692" stroke-width="2.2"/>
<circle cx="1536.8" cy="74.5" r="5.3" fill="none" stroke="#2f3692" stroke-width="2.2"/>
<circle cx="1478.9" cy="107" r="5.3" fill="none" stroke="#2f3692" stroke-width="2.2"/>
<circle cx="1495.9" cy="110.4" r="5.3" fill="none" stroke="#2f3692" stroke-width="2.2"/>
<circle cx="1518.9" cy="108.4" r="5.3" fill="none" stroke="#2f3692" stroke-width="2.2"/>
<circle cx="1546" cy="108.4" r="5.3" fill="none" stroke="#2f3692" stroke-width="2.2"/>
<circle cx="1569" cy="108.4" r="5.3" fill="none" stroke="#2f3692" stroke-width="2.2"/>
<circle cx="1585.9" cy="104.3" r="5.3" fill="none" stroke="#2f3692" stroke-width="2.2"/>
<circle cx="1526.3" cy="134.1" r="5.3" fill="none" stroke="#2f3692" stroke-width="2.2"/>
<circle cx="1539.9" cy="134.1" r="5.3" fill="none" stroke="#2f3692" stroke-width="2.2"/>
<circle cx="1468.1" cy="152.4" r="5.3" fill="none" stroke="#2f3692" stroke-width="2.2"/>
<circle cx="1504" cy="158.5" r="5.3" fill="none" stroke="#2f3692" stroke-width="2.2"/>
<circle cx="1562.9" cy="157.1" r="5.3" fill="none" stroke="#2f3692" stroke-width="2.2"/>
<circle cx="1598.8" cy="149" r="5.3" fill="none" stroke="#2f3692" stroke-width="2.2"/>
<circle cx="1493.1" cy="177.1" r="5.3" fill="none" stroke="#2f3692" stroke-width="2.2"/>
<circle cx="1514.8" cy="176.4" r="5.3" fill="none" stroke="#2f3692" stroke-width="2.2"/>
<circle cx="1553.4" cy="175.1" r="5.3" fill="none" stroke="#2f3692" stroke-width="2.2"/>
<circle cx="1575.1" cy="175.7" r="5.3" fill="none" stroke="#2f3692" stroke-width="2.2"/>
<circle cx="1500.6" cy="239.4" r="5.3" fill="none" stroke="#2f3692" stroke-width="2.2"/>
<circle cx="1535.8" cy="234" r="5.3" fill="none" stroke="#2f3692" stroke-width="2.2"/>
<circle cx="1570.3" cy="238" r="5.3" fill="none" stroke="#2f3692" stroke-width="2.2"/>
<circle cx="1512.8" cy="258.4" r="5.3" fill="none" stroke="#2f3692" stroke-width="2.2"/>
<circle cx="1558.8" cy="257" r="5.3" fill="none" stroke="#2f3692" stroke-width="2.2"/>
<circle cx="1443.7" cy="271.2" r="5.3" fill="none" stroke="#2f3692" stroke-width="2.2"/>
<circle cx="1629.3" cy="267.2" r="5.3" fill="none" stroke="#2f3692" stroke-width="2.2"/>
<circle cx="1499.9" cy="321.2" r="5.3" fill="none" stroke="#2f3692" stroke-width="2.2"/>
<circle cx="1518.2" cy="327.2" r="5.3" fill="none" stroke="#2f3692" stroke-width="2.2"/>
<circle cx="1556.1" cy="325.9" r="5.3" fill="none" stroke="#2f3692" stroke-width="2.2"/>
<circle cx="1575.8" cy="319.8" r="5.3" fill="none" stroke="#2f3692" stroke-width="2.2"/>
<circle cx="1470.1" cy="338.1" r="5.3" fill="none" stroke="#2f3692" stroke-width="2.2"/>
<circle cx="1605.6" cy="334.7" r="5.3" fill="none" stroke="#2f3692" stroke-width="2.2"/>
<circle cx="1481.6" cy="376.7" r="5.3" fill="none" stroke="#2f3692" stroke-width="2.2"/>
<circle cx="1596.1" cy="374.7" r="5.3" fill="none" stroke="#2f3692" stroke-width="2.2"/>
<circle cx="1512.1" cy="403.1" r="5.3" fill="none" stroke="#2f3692" stroke-width="2.2"/>
<circle cx="1538.5" cy="388.2" r="5.3" fill="none" stroke="#2f3692" stroke-width="2.2"/>
<circle cx="1566.3" cy="402.4" r="5.3" fill="none" stroke="#2f3692" stroke-width="2.2"/>
<circle cx="1539.9" cy="423.4" r="5.3" fill="none" stroke="#2f3692" stroke-width="2.2"/>
<line x1="1530.5" y1="31" x2="1530.7" y2="39.5" stroke="#e2000f" stroke-width="2.3" stroke-linecap="butt"/>
<line x1="1515.5" y1="34.6" x2="1522.7" y2="42.6" stroke="#e2000f" stroke-width="2.3" stroke-linecap="butt"/>
<line x1="1546.3" y1="33.5" x2="1538.6" y2="42.4" stroke="#e2000f" stroke-width="2.3" stroke-linecap="butt"/>
<line x1="1505.9" y1="37.6" x2="1499.4" y2="90.4" stroke="#e2000f" stroke-width="2.3" stroke-linecap="butt"/>
<line x1="1556.1" y1="36.2" x2="1565" y2="89.1" stroke="#e2000f" stroke-width="2.3" stroke-linecap="butt"/>
<line x1="1524.7" y1="91.7" x2="1521.2" y2="109.4" stroke="#e2000f" stroke-width="2.3" stroke-linecap="butt"/>
<line x1="1539" y1="91.6" x2="1543.2" y2="108.8" stroke="#e2000f" stroke-width="2.3" stroke-linecap="butt"/>
<line x1="1527.2" y1="91.9" x2="1528.2" y2="145.1" stroke="#e2000f" stroke-width="2.3" stroke-linecap="butt"/>
<line x1="1536.6" y1="91.9" x2="1538.1" y2="145.1" stroke="#e2000f" stroke-width="2.3" stroke-linecap="butt"/>
<line x1="1522" y1="132.8" x2="1525.3" y2="145.5" stroke="#e2000f" stroke-width="2.3" stroke-linecap="butt"/>
<line x1="1543.6" y1="132.3" x2="1540.9" y2="145.3" stroke="#e2000f" stroke-width="2.3" stroke-linecap="butt"/>
<line x1="1478.2" y1="107" x2="1470.1" y2="134.1" stroke="#e2000f" stroke-width="2.3" stroke-linecap="butt"/>
<line x1="1490.9" y1="112" x2="1473.7" y2="135.9" stroke="#e2000f" stroke-width="2.3" stroke-linecap="butt"/>
<line x1="1574.4" y1="110.3" x2="1592.1" y2="132.8" stroke="#e2000f" stroke-width="2.3" stroke-linecap="butt"/>
<line x1="1586.4" y1="104.5" x2="1595.6" y2="130.9" stroke="#e2000f" stroke-width="2.3" stroke-linecap="butt"/>
<line x1="1478.4" y1="148.4" x2="1491.6" y2="151.6" stroke="#e2000f" stroke-width="2.3" stroke-linecap="butt"/>
<line x1="1575.1" y1="149.5" x2="1588" y2="145.7" stroke="#e2000f" stroke-width="2.3" stroke-linecap="butt"/>
<line x1="1463.8" y1="157.3" x2="1437.8" y2="262.9" stroke="#e2000f" stroke-width="2.3" stroke-linecap="butt"/>
<line x1="1602.9" y1="153.7" x2="1634" y2="258.4" stroke="#e2000f" stroke-width="2.3" stroke-linecap="butt"/>
<line x1="1494.4" y1="186.3" x2="1499.3" y2="230.2" stroke="#e2000f" stroke-width="2.3" stroke-linecap="butt"/>
<line x1="1513" y1="183.4" x2="1503.1" y2="230.4" stroke="#e2000f" stroke-width="2.3" stroke-linecap="butt"/>
<line x1="1555.2" y1="182.6" x2="1567.2" y2="228.5" stroke="#e2000f" stroke-width="2.3" stroke-linecap="butt"/>
<line x1="1573.7" y1="184.3" x2="1571" y2="228.1" stroke="#e2000f" stroke-width="2.3" stroke-linecap="butt"/>
<line x1="1489.8" y1="247.4" x2="1445.7" y2="269.3" stroke="#e2000f" stroke-width="2.3" stroke-linecap="butt"/>
<line x1="1581.3" y1="245" x2="1626.4" y2="265" stroke="#e2000f" stroke-width="2.3" stroke-linecap="butt"/>
<line x1="1526.7" y1="243.1" x2="1521.9" y2="247.2" stroke="#e2000f" stroke-width="2.3" stroke-linecap="butt"/>
<line x1="1545.1" y1="242.9" x2="1548.9" y2="246" stroke="#e2000f" stroke-width="2.3" stroke-linecap="butt"/>
<line x1="1514.3" y1="266.9" x2="1520.1" y2="312.6" stroke="#e2000f" stroke-width="2.3" stroke-linecap="butt"/>
<line x1="1557.4" y1="265.6" x2="1554.2" y2="311.9" stroke="#e2000f" stroke-width="2.3" stroke-linecap="butt"/>
<line x1="1439.1" y1="285.9" x2="1453.7" y2="325.4" stroke="#e2000f" stroke-width="2.3" stroke-linecap="butt"/>
<line x1="1633.7" y1="281.3" x2="1620.8" y2="321.9" stroke="#e2000f" stroke-width="2.3" stroke-linecap="butt"/>
<line x1="1489.5" y1="318.3" x2="1468.3" y2="330.7" stroke="#e2000f" stroke-width="2.3" stroke-linecap="butt"/>
<line x1="1585.1" y1="317.1" x2="1606.4" y2="327.9" stroke="#e2000f" stroke-width="2.3" stroke-linecap="butt"/>
<line x1="1514.2" y1="333.9" x2="1485.6" y2="370" stroke="#e2000f" stroke-width="2.3" stroke-linecap="butt"/>
<line x1="1561.2" y1="333" x2="1591" y2="368.3" stroke="#e2000f" stroke-width="2.3" stroke-linecap="butt"/>
<line x1="1463.1" y1="347.5" x2="1473" y2="368.6" stroke="#e2000f" stroke-width="2.3" stroke-linecap="butt"/>
<line x1="1612.5" y1="344.4" x2="1603.4" y2="366.3" stroke="#e2000f" stroke-width="2.3" stroke-linecap="butt"/>
<line x1="1488.1" y1="386.1" x2="1502.2" y2="395.7" stroke="#e2000f" stroke-width="2.3" stroke-linecap="butt"/>
<line x1="1589.2" y1="384.6" x2="1576.6" y2="393.9" stroke="#e2000f" stroke-width="2.3" stroke-linecap="butt"/>
<line x1="1521.9" y1="395.4" x2="1528.7" y2="390.5" stroke="#e2000f" stroke-width="2.3" stroke-linecap="butt"/>
<line x1="1548.7" y1="389.8" x2="1556.8" y2="394.8" stroke="#e2000f" stroke-width="2.3" stroke-linecap="butt"/>
<line x1="1520.4" y1="411.1" x2="1531.6" y2="422.8" stroke="#e2000f" stroke-width="2.3" stroke-linecap="butt"/>
<line x1="1559" y1="410.1" x2="1547.9" y2="422.5" stroke="#e2000f" stroke-width="2.3" stroke-linecap="butt"/>
<circle cx="1530.4" cy="19" r="5.3" fill="none" stroke="#e2000f" stroke-width="2.2"/>
<circle cx="1507.4" cy="25.7" r="5.3" fill="none" stroke="#e2000f" stroke-width="2.2"/>
<circle cx="1554.1" cy="24.4" r="5.3" fill="none" stroke="#e2000f" stroke-width="2.2"/>
<circle cx="1530.8" cy="51.5" r="5.3" fill="none" stroke="#e2000f" stroke-width="2.2"/>
<circle cx="1527" cy="79.9" r="5.3" fill="none" stroke="#e2000f" stroke-width="2.2"/>
<circle cx="1536.2" cy="79.9" r="5.3" fill="none" stroke="#e2000f" stroke-width="2.2"/>
<circle cx="1481.6" cy="95.5" r="5.3" fill="none" stroke="#e2000f" stroke-width="2.2"/>
<circle cx="1497.9" cy="102.3" r="5.3" fill="none" stroke="#e2000f" stroke-width="2.2"/>
<circle cx="1518.9" cy="121.2" r="5.3" fill="none" stroke="#e2000f" stroke-width="2.2"/>
<circle cx="1546" cy="120.5" r="5.3" fill="none" stroke="#e2000f" stroke-width="2.2"/>
<circle cx="1567" cy="100.9" r="5.3" fill="none" stroke="#e2000f" stroke-width="2.2"/>
<circle cx="1582.5" cy="93.2" r="5.3" fill="none" stroke="#e2000f" stroke-width="2.2"/>
<circle cx="1528.4" cy="157.1" r="5.3" fill="none" stroke="#e2000f" stroke-width="2.2"/>
<circle cx="1538.5" cy="157.1" r="5.3" fill="none" stroke="#e2000f" stroke-width="2.2"/>
<circle cx="1466.7" cy="145.6" r="5.3" fill="none" stroke="#e2000f" stroke-width="2.2"/>
<circle cx="1503.3" cy="154.4" r="5.3" fill="none" stroke="#e2000f" stroke-width="2.2"/>
<circle cx="1563.6" cy="153" r="5.3" fill="none" stroke="#e2000f" stroke-width="2.2"/>
<circle cx="1599.5" cy="142.2" r="5.3" fill="none" stroke="#e2000f" stroke-width="2.2"/>
<circle cx="1493.1" cy="174.4" r="5.3" fill="none" stroke="#e2000f" stroke-width="2.2"/>
<circle cx="1515.5" cy="171.7" r="5.3" fill="none" stroke="#e2000f" stroke-width="2.2"/>
<circle cx="1552.1" cy="171" r="5.3" fill="none" stroke="#e2000f" stroke-width="2.2"/>
<circle cx="1574.4" cy="172.3" r="5.3" fill="none" stroke="#e2000f" stroke-width="2.2"/>
<circle cx="1500.6" cy="242.1" r="5.3" fill="none" stroke="#e2000f" stroke-width="2.2"/>
<circle cx="1535.8" cy="235.3" r="5.3" fill="none" stroke="#e2000f" stroke-width="2.2"/>
<circle cx="1570.3" cy="240.1" r="5.3" fill="none" stroke="#e2000f" stroke-width="2.2"/>
<circle cx="1512.8" cy="255" r="5.3" fill="none" stroke="#e2000f" stroke-width="2.2"/>
<circle cx="1558.2" cy="253.6" r="5.3" fill="none" stroke="#e2000f" stroke-width="2.2"/>
<circle cx="1434.9" cy="274.6" r="5.3" fill="none" stroke="#e2000f" stroke-width="2.2"/>
<circle cx="1637.4" cy="269.9" r="5.3" fill="none" stroke="#e2000f" stroke-width="2.2"/>
<circle cx="1499.9" cy="312.3" r="5.3" fill="none" stroke="#e2000f" stroke-width="2.2"/>
<circle cx="1521.6" cy="324.5" r="5.3" fill="none" stroke="#e2000f" stroke-width="2.2"/>
<circle cx="1553.4" cy="323.9" r="5.3" fill="none" stroke="#e2000f" stroke-width="2.2"/>
<circle cx="1574.4" cy="311.7" r="5.3" fill="none" stroke="#e2000f" stroke-width="2.2"/>
<circle cx="1457.9" cy="336.7" r="5.3" fill="none" stroke="#e2000f" stroke-width="2.2"/>
<circle cx="1617.1" cy="333.3" r="5.3" fill="none" stroke="#e2000f" stroke-width="2.2"/>
<circle cx="1478.2" cy="379.4" r="5.3" fill="none" stroke="#e2000f" stroke-width="2.2"/>
<circle cx="1598.8" cy="377.4" r="5.3" fill="none" stroke="#e2000f" stroke-width="2.2"/>
<circle cx="1512.1" cy="402.4" r="5.3" fill="none" stroke="#e2000f" stroke-width="2.2"/>
<circle cx="1538.5" cy="383.5" r="5.3" fill="none" stroke="#e2000f" stroke-width="2.2"/>
<circle cx="1567" cy="401.1" r="5.3" fill="none" stroke="#e2000f" stroke-width="2.2"/>
<circle cx="1539.9" cy="431.5" r="5.3" fill="none" stroke="#e2000f" stroke-width="2.2"/>
<defs><clipPath id="c2"><rect x="1400" y="560" width="300" height="452"/></clipPath></defs><g clip-path="url(#c2)">
<line x1="1530.6" y1="599.6" x2="1530.9" y2="610.1" stroke="#e2000f" stroke-width="2.3" stroke-linecap="butt"/>
<line x1="1514.1" y1="603.3" x2="1523" y2="613.2" stroke="#e2000f" stroke-width="2.3" stroke-linecap="butt"/>
<line x1="1546.9" y1="603" x2="1538.7" y2="612.8" stroke="#e2000f" stroke-width="2.3" stroke-linecap="butt"/>
<line x1="1504.9" y1="606.3" x2="1499" y2="667.1" stroke="#e2000f" stroke-width="2.3" stroke-linecap="butt"/>
<line x1="1556.2" y1="605.6" x2="1564.6" y2="666.5" stroke="#e2000f" stroke-width="2.3" stroke-linecap="butt"/>
<line x1="1524.8" y1="665.1" x2="1521.8" y2="682.1" stroke="#e2000f" stroke-width="2.3" stroke-linecap="butt"/>
<line x1="1539.1" y1="665" x2="1543.1" y2="681.6" stroke="#e2000f" stroke-width="2.3" stroke-linecap="butt"/>
<line x1="1527.1" y1="665.3" x2="1527.6" y2="715.1" stroke="#e2000f" stroke-width="2.3" stroke-linecap="butt"/>
<line x1="1536.7" y1="665.3" x2="1538.7" y2="715.1" stroke="#e2000f" stroke-width="2.3" stroke-linecap="butt"/>
<line x1="1522.4" y1="705.6" x2="1524.9" y2="715.4" stroke="#e2000f" stroke-width="2.3" stroke-linecap="butt"/>
<line x1="1543.6" y1="705.1" x2="1541.6" y2="715.3" stroke="#e2000f" stroke-width="2.3" stroke-linecap="butt"/>
<line x1="1477.8" y1="681.9" x2="1470.3" y2="712.7" stroke="#e2000f" stroke-width="2.3" stroke-linecap="butt"/>
<line x1="1491.2" y1="689" x2="1474.1" y2="714.4" stroke="#e2000f" stroke-width="2.3" stroke-linecap="butt"/>
<line x1="1573.6" y1="687.9" x2="1592.2" y2="712.2" stroke="#e2000f" stroke-width="2.3" stroke-linecap="butt"/>
<line x1="1587.2" y1="679" x2="1596.2" y2="710.2" stroke="#e2000f" stroke-width="2.3" stroke-linecap="butt"/>
<line x1="1478.9" y1="727.7" x2="1493.2" y2="731.7" stroke="#e2000f" stroke-width="2.3" stroke-linecap="butt"/>
<line x1="1573.8" y1="730.6" x2="1588.2" y2="725.6" stroke="#e2000f" stroke-width="2.3" stroke-linecap="butt"/>
<line x1="1465.2" y1="736.2" x2="1446.6" y2="838.2" stroke="#e2000f" stroke-width="2.3" stroke-linecap="butt"/>
<line x1="1602.2" y1="733.4" x2="1625.2" y2="833.6" stroke="#e2000f" stroke-width="2.3" stroke-linecap="butt"/>
<line x1="1498" y1="764.4" x2="1502.5" y2="799.5" stroke="#e2000f" stroke-width="2.3" stroke-linecap="butt"/>
<line x1="1512.7" y1="763" x2="1506.1" y2="799.6" stroke="#e2000f" stroke-width="2.3" stroke-linecap="butt"/>
<line x1="1555.4" y1="762.2" x2="1563.6" y2="797.7" stroke="#e2000f" stroke-width="2.3" stroke-linecap="butt"/>
<line x1="1570.6" y1="763.1" x2="1567.4" y2="797.5" stroke="#e2000f" stroke-width="2.3" stroke-linecap="butt"/>
<line x1="1493.9" y1="817.9" x2="1454.5" y2="843.5" stroke="#e2000f" stroke-width="2.3" stroke-linecap="butt"/>
<line x1="1576.7" y1="815.4" x2="1617.5" y2="839.3" stroke="#e2000f" stroke-width="2.3" stroke-linecap="butt"/>
<line x1="1526.7" y1="812.6" x2="1522.5" y2="817" stroke="#e2000f" stroke-width="2.3" stroke-linecap="butt"/>
<line x1="1544" y1="812.1" x2="1548.6" y2="816.2" stroke="#e2000f" stroke-width="2.3" stroke-linecap="butt"/>
<line x1="1515" y1="837.6" x2="1519.3" y2="891.3" stroke="#e2000f" stroke-width="2.3" stroke-linecap="butt"/>
<line x1="1557" y1="836.3" x2="1554.6" y2="890" stroke="#e2000f" stroke-width="2.3" stroke-linecap="butt"/>
<line x1="1448.1" y1="861.4" x2="1461.7" y2="904.1" stroke="#e2000f" stroke-width="2.3" stroke-linecap="butt"/>
<line x1="1624.8" y1="856.9" x2="1613.4" y2="900.5" stroke="#e2000f" stroke-width="2.3" stroke-linecap="butt"/>
<line x1="1490.3" y1="900.6" x2="1475.7" y2="909.4" stroke="#e2000f" stroke-width="2.3" stroke-linecap="butt"/>
<line x1="1583.1" y1="898" x2="1599.6" y2="906.6" stroke="#e2000f" stroke-width="2.3" stroke-linecap="butt"/>
<line x1="1513.1" y1="913" x2="1491.8" y2="942.4" stroke="#e2000f" stroke-width="2.3" stroke-linecap="butt"/>
<line x1="1561.6" y1="911.4" x2="1585.2" y2="940.7" stroke="#e2000f" stroke-width="2.3" stroke-linecap="butt"/>
<line x1="1471" y1="926.1" x2="1479.1" y2="941.5" stroke="#e2000f" stroke-width="2.3" stroke-linecap="butt"/>
<line x1="1605.3" y1="923" x2="1597.7" y2="939.2" stroke="#e2000f" stroke-width="2.3" stroke-linecap="butt"/>
<line x1="1493.5" y1="960.2" x2="1505.3" y2="971.1" stroke="#e2000f" stroke-width="2.3" stroke-linecap="butt"/>
<line x1="1583.9" y1="958.3" x2="1571.7" y2="969.6" stroke="#e2000f" stroke-width="2.3" stroke-linecap="butt"/>
<line x1="1524.2" y1="972.7" x2="1528.4" y2="970.1" stroke="#e2000f" stroke-width="2.3" stroke-linecap="butt"/>
<line x1="1548.9" y1="969.6" x2="1552.5" y2="971.8" stroke="#e2000f" stroke-width="2.3" stroke-linecap="butt"/>
<line x1="1524.2" y1="985.7" x2="1529.1" y2="988.9" stroke="#e2000f" stroke-width="2.3" stroke-linecap="butt"/>
<line x1="1553.3" y1="985" x2="1548.8" y2="988.2" stroke="#e2000f" stroke-width="2.3" stroke-linecap="butt"/>
<circle cx="1530.4" cy="587.6" r="5.3" fill="none" stroke="#e2000f" stroke-width="2.2"/>
<circle cx="1506" cy="594.4" r="5.3" fill="none" stroke="#e2000f" stroke-width="2.2"/>
<circle cx="1554.5" cy="593.7" r="5.3" fill="none" stroke="#e2000f" stroke-width="2.2"/>
<circle cx="1531.1" cy="622.1" r="5.3" fill="none" stroke="#e2000f" stroke-width="2.2"/>
<circle cx="1527" cy="653.3" r="5.3" fill="none" stroke="#e2000f" stroke-width="2.2"/>
<circle cx="1536.2" cy="653.3" r="5.3" fill="none" stroke="#e2000f" stroke-width="2.2"/>
<circle cx="1480.7" cy="670.2" r="5.3" fill="none" stroke="#e2000f" stroke-width="2.2"/>
<circle cx="1497.9" cy="679" r="5.3" fill="none" stroke="#e2000f" stroke-width="2.2"/>
<circle cx="1519.6" cy="693.9" r="5.3" fill="none" stroke="#e2000f" stroke-width="2.2"/>
<circle cx="1546" cy="693.3" r="5.3" fill="none" stroke="#e2000f" stroke-width="2.2"/>
<circle cx="1566.3" cy="678.4" r="5.3" fill="none" stroke="#e2000f" stroke-width="2.2"/>
<circle cx="1583.9" cy="667.5" r="5.3" fill="none" stroke="#e2000f" stroke-width="2.2"/>
<circle cx="1527.7" cy="727.1" r="5.3" fill="none" stroke="#e2000f" stroke-width="2.2"/>
<circle cx="1539.2" cy="727.1" r="5.3" fill="none" stroke="#e2000f" stroke-width="2.2"/>
<circle cx="1467.4" cy="724.4" r="5.3" fill="none" stroke="#e2000f" stroke-width="2.2"/>
<circle cx="1504.7" cy="735" r="5.3" fill="none" stroke="#e2000f" stroke-width="2.2"/>
<circle cx="1562.5" cy="734.5" r="5.3" fill="none" stroke="#e2000f" stroke-width="2.2"/>
<circle cx="1599.5" cy="721.7" r="5.3" fill="none" stroke="#e2000f" stroke-width="2.2"/>
<circle cx="1496.5" cy="752.5" r="5.3" fill="none" stroke="#e2000f" stroke-width="2.2"/>
<circle cx="1514.8" cy="751.2" r="5.3" fill="none" stroke="#e2000f" stroke-width="2.2"/>
<circle cx="1552.7" cy="750.5" r="5.3" fill="none" stroke="#e2000f" stroke-width="2.2"/>
<circle cx="1571.7" cy="751.2" r="5.3" fill="none" stroke="#e2000f" stroke-width="2.2"/>
<circle cx="1504" cy="811.4" r="5.3" fill="none" stroke="#e2000f" stroke-width="2.2"/>
<circle cx="1535.1" cy="804" r="5.3" fill="none" stroke="#e2000f" stroke-width="2.2"/>
<circle cx="1566.3" cy="809.4" r="5.3" fill="none" stroke="#e2000f" stroke-width="2.2"/>
<circle cx="1514.1" cy="825.6" r="5.3" fill="none" stroke="#e2000f" stroke-width="2.2"/>
<circle cx="1557.5" cy="824.3" r="5.3" fill="none" stroke="#e2000f" stroke-width="2.2"/>
<circle cx="1444.4" cy="850" r="5.3" fill="none" stroke="#e2000f" stroke-width="2.2"/>
<circle cx="1627.9" cy="845.3" r="5.3" fill="none" stroke="#e2000f" stroke-width="2.2"/>
<circle cx="1500.6" cy="894.5" r="5.3" fill="none" stroke="#e2000f" stroke-width="2.2"/>
<circle cx="1520.2" cy="903.3" r="5.3" fill="none" stroke="#e2000f" stroke-width="2.2"/>
<circle cx="1554.1" cy="902" r="5.3" fill="none" stroke="#e2000f" stroke-width="2.2"/>
<circle cx="1572.4" cy="892.5" r="5.3" fill="none" stroke="#e2000f" stroke-width="2.2"/>
<circle cx="1465.4" cy="915.5" r="5.3" fill="none" stroke="#e2000f" stroke-width="2.2"/>
<circle cx="1610.3" cy="912.1" r="5.3" fill="none" stroke="#e2000f" stroke-width="2.2"/>
<circle cx="1484.7" cy="952.1" r="5.3" fill="none" stroke="#e2000f" stroke-width="2.2"/>
<circle cx="1592.7" cy="950.1" r="5.3" fill="none" stroke="#e2000f" stroke-width="2.2"/>
<circle cx="1514.1" cy="979.2" r="5.3" fill="none" stroke="#e2000f" stroke-width="2.2"/>
<circle cx="1538.5" cy="963.6" r="5.3" fill="none" stroke="#e2000f" stroke-width="2.2"/>
<circle cx="1562.9" cy="977.8" r="5.3" fill="none" stroke="#e2000f" stroke-width="2.2"/>
<circle cx="1539.2" cy="995.4" r="5.3" fill="none" stroke="#e2000f" stroke-width="2.2"/>
<line x1="1517.7" y1="612" x2="1521.2" y2="614.4" stroke="#2f3692" stroke-width="2.3" stroke-linecap="butt"/>
<line x1="1543.9" y1="611.3" x2="1540.6" y2="613.8" stroke="#2f3692" stroke-width="2.3" stroke-linecap="butt"/>
<line x1="1506" y1="617.1" x2="1498.3" y2="669.8" stroke="#2f3692" stroke-width="2.3" stroke-linecap="butt"/>
<line x1="1555.7" y1="615.7" x2="1566" y2="668.6" stroke="#2f3692" stroke-width="2.3" stroke-linecap="butt"/>
<line x1="1524.1" y1="663.7" x2="1521.1" y2="676.1" stroke="#2f3692" stroke-width="2.3" stroke-linecap="butt"/>
<line x1="1539.9" y1="663.5" x2="1543.6" y2="676.3" stroke="#2f3692" stroke-width="2.3" stroke-linecap="butt"/>
<line x1="1527" y1="664" x2="1527" y2="707.7" stroke="#2f3692" stroke-width="2.3" stroke-linecap="butt"/>
<line x1="1537.1" y1="664" x2="1539.3" y2="707" stroke="#2f3692" stroke-width="2.3" stroke-linecap="butt"/>
<line x1="1521.4" y1="699.4" x2="1523.8" y2="708.1" stroke="#2f3692" stroke-width="2.3" stroke-linecap="butt"/>
<line x1="1544.3" y1="699.5" x2="1542.6" y2="707.3" stroke="#2f3692" stroke-width="2.3" stroke-linecap="butt"/>
<line x1="1477.4" y1="689.9" x2="1471.4" y2="711.6" stroke="#2f3692" stroke-width="2.3" stroke-linecap="butt"/>
<line x1="1489.7" y1="691.6" x2="1474.9" y2="713.2" stroke="#2f3692" stroke-width="2.3" stroke-linecap="butt"/>
<line x1="1575.6" y1="690" x2="1590.8" y2="710.1" stroke="#2f3692" stroke-width="2.3" stroke-linecap="butt"/>
<line x1="1587.7" y1="688.4" x2="1594.3" y2="708.3" stroke="#2f3692" stroke-width="2.3" stroke-linecap="butt"/>
<line x1="1480" y1="724.7" x2="1490" y2="726" stroke="#2f3692" stroke-width="2.3" stroke-linecap="butt"/>
<line x1="1576.1" y1="724.2" x2="1586.3" y2="722.1" stroke="#2f3692" stroke-width="2.3" stroke-linecap="butt"/>
<line x1="1464.9" y1="734.7" x2="1437.4" y2="835" stroke="#2f3692" stroke-width="2.3" stroke-linecap="butt"/>
<line x1="1601.8" y1="731.1" x2="1634.4" y2="830.5" stroke="#2f3692" stroke-width="2.3" stroke-linecap="butt"/>
<line x1="1491.6" y1="760.3" x2="1496" y2="807" stroke="#2f3692" stroke-width="2.3" stroke-linecap="butt"/>
<line x1="1512" y1="757.4" x2="1500" y2="807.2" stroke="#2f3692" stroke-width="2.3" stroke-linecap="butt"/>
<line x1="1556" y1="756.6" x2="1569.8" y2="805.3" stroke="#2f3692" stroke-width="2.3" stroke-linecap="butt"/>
<line x1="1575.8" y1="759.1" x2="1573.7" y2="804.8" stroke="#2f3692" stroke-width="2.3" stroke-linecap="butt"/>
<line x1="1486.2" y1="823.7" x2="1445.2" y2="841.8" stroke="#2f3692" stroke-width="2.3" stroke-linecap="butt"/>
<line x1="1584.3" y1="821.1" x2="1626.9" y2="837.6" stroke="#2f3692" stroke-width="2.3" stroke-linecap="butt"/>
<line x1="1526.1" y1="822.7" x2="1521.1" y2="827.2" stroke="#2f3692" stroke-width="2.3" stroke-linecap="butt"/>
<line x1="1544.6" y1="822.2" x2="1550" y2="826.4" stroke="#2f3692" stroke-width="2.3" stroke-linecap="butt"/>
<line x1="1513.5" y1="847" x2="1518.2" y2="887.4" stroke="#2f3692" stroke-width="2.3" stroke-linecap="butt"/>
<line x1="1558.6" y1="845.8" x2="1555.7" y2="885.9" stroke="#2f3692" stroke-width="2.3" stroke-linecap="butt"/>
<line x1="1438.9" y1="857.7" x2="1455.9" y2="898.3" stroke="#2f3692" stroke-width="2.3" stroke-linecap="butt"/>
<line x1="1633.8" y1="853.1" x2="1618" y2="894.2" stroke="#2f3692" stroke-width="2.3" stroke-linecap="butt"/>
<line x1="1487.4" y1="894.3" x2="1471.1" y2="903.5" stroke="#2f3692" stroke-width="2.3" stroke-linecap="butt"/>
<line x1="1587.1" y1="891.8" x2="1603" y2="900" stroke="#2f3692" stroke-width="2.3" stroke-linecap="butt"/>
<line x1="1512" y1="908.6" x2="1483.1" y2="944.2" stroke="#2f3692" stroke-width="2.3" stroke-linecap="butt"/>
<line x1="1562.7" y1="906.9" x2="1592.9" y2="941.7" stroke="#2f3692" stroke-width="2.3" stroke-linecap="butt"/>
<line x1="1464.4" y1="920.8" x2="1471.7" y2="942.1" stroke="#2f3692" stroke-width="2.3" stroke-linecap="butt"/>
<line x1="1610.4" y1="916.9" x2="1604.1" y2="939.2" stroke="#2f3692" stroke-width="2.3" stroke-linecap="butt"/>
<line x1="1485.5" y1="960.1" x2="1499.4" y2="969.2" stroke="#2f3692" stroke-width="2.3" stroke-linecap="butt"/>
<line x1="1591.3" y1="958" x2="1578.5" y2="967.8" stroke="#2f3692" stroke-width="2.3" stroke-linecap="butt"/>
<line x1="1519.6" y1="969.4" x2="1528.3" y2="963.9" stroke="#2f3692" stroke-width="2.3" stroke-linecap="butt"/>
<line x1="1548.9" y1="963.5" x2="1558.6" y2="969.1" stroke="#2f3692" stroke-width="2.3" stroke-linecap="butt"/>
<line x1="1517.7" y1="984.5" x2="1530.9" y2="998.3" stroke="#2f3692" stroke-width="2.3" stroke-linecap="butt"/>
<line x1="1560.8" y1="983.9" x2="1547.4" y2="998.2" stroke="#2f3692" stroke-width="2.3" stroke-linecap="butt"/>
<circle cx="1530.4" cy="596.4" r="5.3" fill="none" stroke="#2f3692" stroke-width="2.2"/>
<circle cx="1507.8" cy="605.2" r="5.3" fill="none" stroke="#2f3692" stroke-width="2.2"/>
<circle cx="1553.4" cy="603.9" r="5.3" fill="none" stroke="#2f3692" stroke-width="2.2"/>
<circle cx="1531.1" cy="621.2" r="5.3" fill="none" stroke="#2f3692" stroke-width="2.2"/>
<circle cx="1527" cy="652" r="5.3" fill="none" stroke="#2f3692" stroke-width="2.2"/>
<circle cx="1536.5" cy="652" r="5.3" fill="none" stroke="#2f3692" stroke-width="2.2"/>
<circle cx="1480.7" cy="678.4" r="5.3" fill="none" stroke="#2f3692" stroke-width="2.2"/>
<circle cx="1496.5" cy="681.7" r="5.3" fill="none" stroke="#2f3692" stroke-width="2.2"/>
<circle cx="1518.2" cy="687.8" r="5.3" fill="none" stroke="#2f3692" stroke-width="2.2"/>
<circle cx="1547" cy="687.8" r="5.3" fill="none" stroke="#2f3692" stroke-width="2.2"/>
<circle cx="1568.3" cy="680.4" r="5.3" fill="none" stroke="#2f3692" stroke-width="2.2"/>
<circle cx="1583.9" cy="677" r="5.3" fill="none" stroke="#2f3692" stroke-width="2.2"/>
<circle cx="1527" cy="719.7" r="5.3" fill="none" stroke="#2f3692" stroke-width="2.2"/>
<circle cx="1539.9" cy="719" r="5.3" fill="none" stroke="#2f3692" stroke-width="2.2"/>
<circle cx="1468.1" cy="723.1" r="5.3" fill="none" stroke="#2f3692" stroke-width="2.2"/>
<circle cx="1501.9" cy="727.6" r="5.3" fill="none" stroke="#2f3692" stroke-width="2.2"/>
<circle cx="1564.3" cy="726.6" r="5.3" fill="none" stroke="#2f3692" stroke-width="2.2"/>
<circle cx="1598.1" cy="719.7" r="5.3" fill="none" stroke="#2f3692" stroke-width="2.2"/>
<circle cx="1490.4" cy="748.4" r="5.3" fill="none" stroke="#2f3692" stroke-width="2.2"/>
<circle cx="1514.8" cy="745.7" r="5.3" fill="none" stroke="#2f3692" stroke-width="2.2"/>
<circle cx="1552.7" cy="745.1" r="5.3" fill="none" stroke="#2f3692" stroke-width="2.2"/>
<circle cx="1576.4" cy="747.1" r="5.3" fill="none" stroke="#2f3692" stroke-width="2.2"/>
<circle cx="1497.2" cy="818.9" r="5.3" fill="none" stroke="#2f3692" stroke-width="2.2"/>
<circle cx="1535.1" cy="814.8" r="5.3" fill="none" stroke="#2f3692" stroke-width="2.2"/>
<circle cx="1573.1" cy="816.8" r="5.3" fill="none" stroke="#2f3692" stroke-width="2.2"/>
<circle cx="1512.1" cy="835.1" r="5.3" fill="none" stroke="#2f3692" stroke-width="2.2"/>
<circle cx="1559.5" cy="833.8" r="5.3" fill="none" stroke="#2f3692" stroke-width="2.2"/>
<circle cx="1434.2" cy="846.6" r="5.3" fill="none" stroke="#2f3692" stroke-width="2.2"/>
<circle cx="1638.1" cy="841.9" r="5.3" fill="none" stroke="#2f3692" stroke-width="2.2"/>
<circle cx="1497.9" cy="888.4" r="5.3" fill="none" stroke="#2f3692" stroke-width="2.2"/>
<circle cx="1519.6" cy="899.3" r="5.3" fill="none" stroke="#2f3692" stroke-width="2.2"/>
<circle cx="1554.8" cy="897.9" r="5.3" fill="none" stroke="#2f3692" stroke-width="2.2"/>
<circle cx="1576.4" cy="886.4" r="5.3" fill="none" stroke="#2f3692" stroke-width="2.2"/>
<circle cx="1460.6" cy="909.4" r="5.3" fill="none" stroke="#2f3692" stroke-width="2.2"/>
<circle cx="1613.7" cy="905.4" r="5.3" fill="none" stroke="#2f3692" stroke-width="2.2"/>
<circle cx="1475.5" cy="953.5" r="5.3" fill="none" stroke="#2f3692" stroke-width="2.2"/>
<circle cx="1600.8" cy="950.7" r="5.3" fill="none" stroke="#2f3692" stroke-width="2.2"/>
<circle cx="1509.4" cy="975.8" r="5.3" fill="none" stroke="#2f3692" stroke-width="2.2"/>
<circle cx="1538.5" cy="957.5" r="5.3" fill="none" stroke="#2f3692" stroke-width="2.2"/>
<circle cx="1569" cy="975.1" r="5.3" fill="none" stroke="#2f3692" stroke-width="2.2"/>
<circle cx="1539.2" cy="1007" r="5.3" fill="none" stroke="#2f3692" stroke-width="2.2"/>
</g>
<text x="1418.4" y="465.8" font-family="Liberation Sans, sans-serif" font-size="33" fill="#000" text-anchor="start" textLength="240" lengthAdjust="spacingAndGlyphs" xml:space="preserve">Variation on PC1</text>
<text x="1418" y="1037.1" font-family="Liberation Sans, sans-serif" font-size="33" fill="#000" text-anchor="start" textLength="244.6" lengthAdjust="spacingAndGlyphs" xml:space="preserve">Variation on PC2</text>
<text x="54.2" y="1125.9" font-family="Liberation Sans, sans-serif" font-size="34.5" fill="#3e3c3d" text-anchor="start" textLength="237" lengthAdjust="spacingAndGlyphs" xml:space="preserve">South Moluccas</text>
<text x="54.2" y="1165.9" font-family="Liberation Sans, sans-serif" font-size="30.2" fill="#49494b" text-anchor="start" font-style="italic" textLength="262.2" lengthAdjust="spacingAndGlyphs" xml:space="preserve">Melomys aerosus (4)</text>
<text x="54.2" y="1205" font-family="Liberation Sans, sans-serif" font-size="30.2" fill="#49494b" text-anchor="start" font-style="italic" textLength="293" lengthAdjust="spacingAndGlyphs" xml:space="preserve">Melomys bannisteri (1)</text>
<text x="54.2" y="1244.1" font-family="Liberation Sans, sans-serif" font-size="30.2" fill="#49494b" text-anchor="start" font-style="italic" textLength="290" lengthAdjust="spacingAndGlyphs" xml:space="preserve">Melomys cooperae&#160; (1)</text>
<text x="54.2" y="1283.2" font-family="Liberation Sans, sans-serif" font-size="30.2" fill="#49494b" text-anchor="start" font-style="italic" textLength="301.3" lengthAdjust="spacingAndGlyphs" xml:space="preserve">Melomys fraterculus (2)</text>
<text x="54.2" y="1322.4" font-family="Liberation Sans, sans-serif" font-size="30.2" fill="#49494b" text-anchor="start" font-style="italic" textLength="263.9" lengthAdjust="spacingAndGlyphs" xml:space="preserve">Melomys fulgens&#160; (2)</text>
<text x="54.2" y="1361.5" font-family="Liberation Sans, sans-serif" font-size="30.2" fill="#49494b" text-anchor="start" font-style="italic" textLength="227.1" lengthAdjust="spacingAndGlyphs" xml:space="preserve">Melomys howi (1)</text>
<text x="54.2" y="1400.6" font-family="Liberation Sans, sans-serif" font-size="30.2" fill="#49494b" text-anchor="start" font-style="italic" textLength="240.2" lengthAdjust="spacingAndGlyphs" xml:space="preserve">Melomys paveli (1)</text>
<text x="457.2" y="1129.4" font-family="Liberation Sans, sans-serif" font-size="34.5" fill="#2b2a2b" text-anchor="start" textLength="230.6" lengthAdjust="spacingAndGlyphs" xml:space="preserve">North Moluccas</text>
<text x="457.2" y="1168.6" font-family="Liberation Sans, sans-serif" font-size="30.2" fill="#1d1b1c" text-anchor="start" font-style="italic" textLength="276.9" lengthAdjust="spacingAndGlyphs" xml:space="preserve">Melomys burtoni (14)</text>
<text x="457.2" y="1208.1" font-family="Liberation Sans, sans-serif" font-size="30.2" fill="#1d1b1c" text-anchor="start" font-style="italic" textLength="274.2" lengthAdjust="spacingAndGlyphs" xml:space="preserve">Melomys caurinus (1)</text>
<text x="457.2" y="1246.5" font-family="Liberation Sans, sans-serif" font-size="30.2" fill="#1d1b1c" text-anchor="start" font-style="italic" textLength="267.8" lengthAdjust="spacingAndGlyphs" xml:space="preserve">Melomys obiensis (1)</text>
<text x="457.2" y="1286" font-family="Liberation Sans, sans-serif" font-size="30.2" fill="#1d1b1c" text-anchor="start" font-style="italic" textLength="299" lengthAdjust="spacingAndGlyphs" xml:space="preserve">Melomys talaudium (1)</text>
<text x="947.2" y="1124.5" font-family="Liberation Sans, sans-serif" font-size="34.5" fill="#e4000f" text-anchor="start" textLength="128.5" lengthAdjust="spacingAndGlyphs" xml:space="preserve">Australia</text>
<text x="947.2" y="1163.6" font-family="Liberation Sans, sans-serif" font-size="30.2" fill="#e4000f" text-anchor="start" font-style="italic" textLength="277.1" lengthAdjust="spacingAndGlyphs" xml:space="preserve">Melomys burtoni (49)</text>
<text x="947.2" y="1202.6" font-family="Liberation Sans, sans-serif" font-size="30.2" fill="#e4000f" text-anchor="start" font-style="italic" textLength="309.6" lengthAdjust="spacingAndGlyphs" xml:space="preserve">Melomys cervinipes (25)</text>
<text x="1360.1" y="1123.6" font-family="Liberation Sans, sans-serif" font-size="34.5" fill="#6ab428" text-anchor="start" textLength="286.6" lengthAdjust="spacingAndGlyphs" xml:space="preserve">Papua New Guinea</text>
<text x="1360.1" y="1164.7" font-family="Liberation Sans, sans-serif" font-size="30.2" fill="#6ab428" text-anchor="start" font-style="italic" textLength="280.2" lengthAdjust="spacingAndGlyphs" xml:space="preserve">Melomys dollmani (6)</text>
<text x="1360.1" y="1204.3" font-family="Liberation Sans, sans-serif" font-size="30.2" fill="#6ab428" text-anchor="start" font-style="italic" textLength="269.6" lengthAdjust="spacingAndGlyphs" xml:space="preserve">Melomys frigicola (3)</text>
<text x="1360.1" y="1244.1" font-family="Liberation Sans, sans-serif" font-size="30.2" fill="#6ab428" text-anchor="start" font-style="italic" textLength="330.5" lengthAdjust="spacingAndGlyphs" xml:space="preserve">Melomys leucogaster (13)</text>
<text x="1360.1" y="1283.3" font-family="Liberation Sans, sans-serif" font-size="30.2" fill="#6ab428" text-anchor="start" font-style="italic" textLength="273.1" lengthAdjust="spacingAndGlyphs" xml:space="preserve">Melomys lutillus&#160; (17)</text>
<text x="1360.1" y="1322.4" font-family="Liberation Sans, sans-serif" font-size="30.2" fill="#6ab428" text-anchor="start" font-style="italic" textLength="284.2" lengthAdjust="spacingAndGlyphs" xml:space="preserve">Melomys rufescens (9)</text>
<circle cx="28.9" cy="1156.6" r="11.2" fill="none" stroke="#6d6e70" stroke-width="1.5"/>
<polygon points="14.7,1202.5 43.3,1202.5 29,1177.7" fill="none" stroke="#6d6e70" stroke-width="1.5" stroke-linejoin="miter"/>
<rect x="18.6" y="1223.6" width="20.8" height="20.8" fill="none" stroke="#6d6e70" stroke-width="1.5" stroke-linejoin="round"/>
<line x1="18.6" y1="1223.6" x2="39.4" y2="1244.4" stroke="#6d6e70" stroke-width="1.5" stroke-linecap="butt"/>
<line x1="18.6" y1="1244.4" x2="39.4" y2="1223.6" stroke="#6d6e70" stroke-width="1.5" stroke-linecap="butt"/>
<polygon points="14.2,1274.4 29.2,1259.4 44.2,1274.4 29.2,1289.4" fill="none" stroke="#6d6e70" stroke-width="1.5" stroke-linejoin="round"/>
<line x1="14.2" y1="1274.4" x2="44.2" y2="1274.4" stroke="#6d6e70" stroke-width="1.5" stroke-linecap="butt"/>
<line x1="29.2" y1="1259.4" x2="29.2" y2="1289.4" stroke="#6d6e70" stroke-width="1.5" stroke-linecap="butt"/>
<polygon points="29.1,1299.2 42.7,1326.7 15.5,1326.7" fill="none" stroke="#6d6e70" stroke-width="1.5" stroke-linejoin="miter"/>
<polygon points="29.1,1330.6 42.7,1303.1 15.5,1303.1" fill="none" stroke="#6d6e70" stroke-width="1.5" stroke-linejoin="miter"/>
<circle cx="29.3" cy="1352.4" r="10.6" fill="none" stroke="#6d6e70" stroke-width="1.5"/>
<line x1="18.3" y1="1341.4" x2="40.3" y2="1363.4" stroke="#6d6e70" stroke-width="1.5" stroke-linecap="round"/>
<line x1="18.3" y1="1363.4" x2="40.3" y2="1341.4" stroke="#6d6e70" stroke-width="1.5" stroke-linecap="round"/>
<polygon points="13.2,1407.3 44.8,1407.3 29,1379.9" fill="#838083"/>
<rect x="421.5" y="1143.6" width="20.8" height="20.8" fill="none" stroke="#161411" stroke-width="1.5" stroke-linejoin="round"/>
<line x1="421.5" y1="1154" x2="442.3" y2="1154" stroke="#161411" stroke-width="1.5" stroke-linecap="butt"/>
<line x1="431.9" y1="1143.6" x2="431.9" y2="1164.4" stroke="#161411" stroke-width="1.5" stroke-linecap="butt"/>
<polygon points="417.4,1196.5 432.1,1181.8 446.8,1196.5 432.1,1211.2" fill="none" stroke="#161411" stroke-width="1.5" stroke-linejoin="round"/>
<circle cx="431.8" cy="1236.8" r="10.3" fill="#161411"/>
<circle cx="432" cy="1276.2" r="17.3" fill="#161411"/>
<line x1="891.1" y1="1154.5" x2="922.7" y2="1154.5" stroke="#e4000f" stroke-width="1.5" stroke-linecap="round"/>
<line x1="906.9" y1="1138.7" x2="906.9" y2="1170.3" stroke="#e4000f" stroke-width="1.5" stroke-linecap="round"/>
<polygon points="892.5,1184.4 921.7,1184.4 907.1,1209.7" fill="none" stroke="#e4000f" stroke-width="1.5" stroke-linejoin="miter"/>
<line x1="1309.3" y1="1154" x2="1340.9" y2="1154" stroke="#6ab428" stroke-width="1.5" stroke-linecap="round"/>
<line x1="1325.1" y1="1138.2" x2="1325.1" y2="1169.8" stroke="#6ab428" stroke-width="1.5" stroke-linecap="round"/>
<line x1="1313.9" y1="1142.8" x2="1336.3" y2="1165.2" stroke="#6ab428" stroke-width="1.5" stroke-linecap="round"/>
<line x1="1313.9" y1="1165.2" x2="1336.3" y2="1142.8" stroke="#6ab428" stroke-width="1.5" stroke-linecap="round"/>
<circle cx="1325.1" cy="1195.4" r="11" fill="none" stroke="#6ab428" stroke-width="1.5"/>
<line x1="1314.1" y1="1195.4" x2="1336.1" y2="1195.4" stroke="#6ab428" stroke-width="1.5" stroke-linecap="butt"/>
<line x1="1325.1" y1="1184.4" x2="1325.1" y2="1206.4" stroke="#6ab428" stroke-width="1.5" stroke-linecap="butt"/>
<rect x="1314.4" y="1224.7" width="21.3" height="21.3" fill="none" stroke="#6ab428" stroke-width="1.5" stroke-linejoin="round"/>
<polyline points="1314.4,1245.9 1325,1224.7 1335.6,1245.9" fill="none" stroke="#6ab428" stroke-width="1.5" stroke-linejoin="round"/>
<rect x="1313.1" y="1261.3" width="23.8" height="23.8" fill="#6ab428"/>
<polygon points="1313.2,1315.8 1325,1304 1336.8,1315.8 1325,1327.6" fill="#6ab428"/>
</svg>
</body></html>
